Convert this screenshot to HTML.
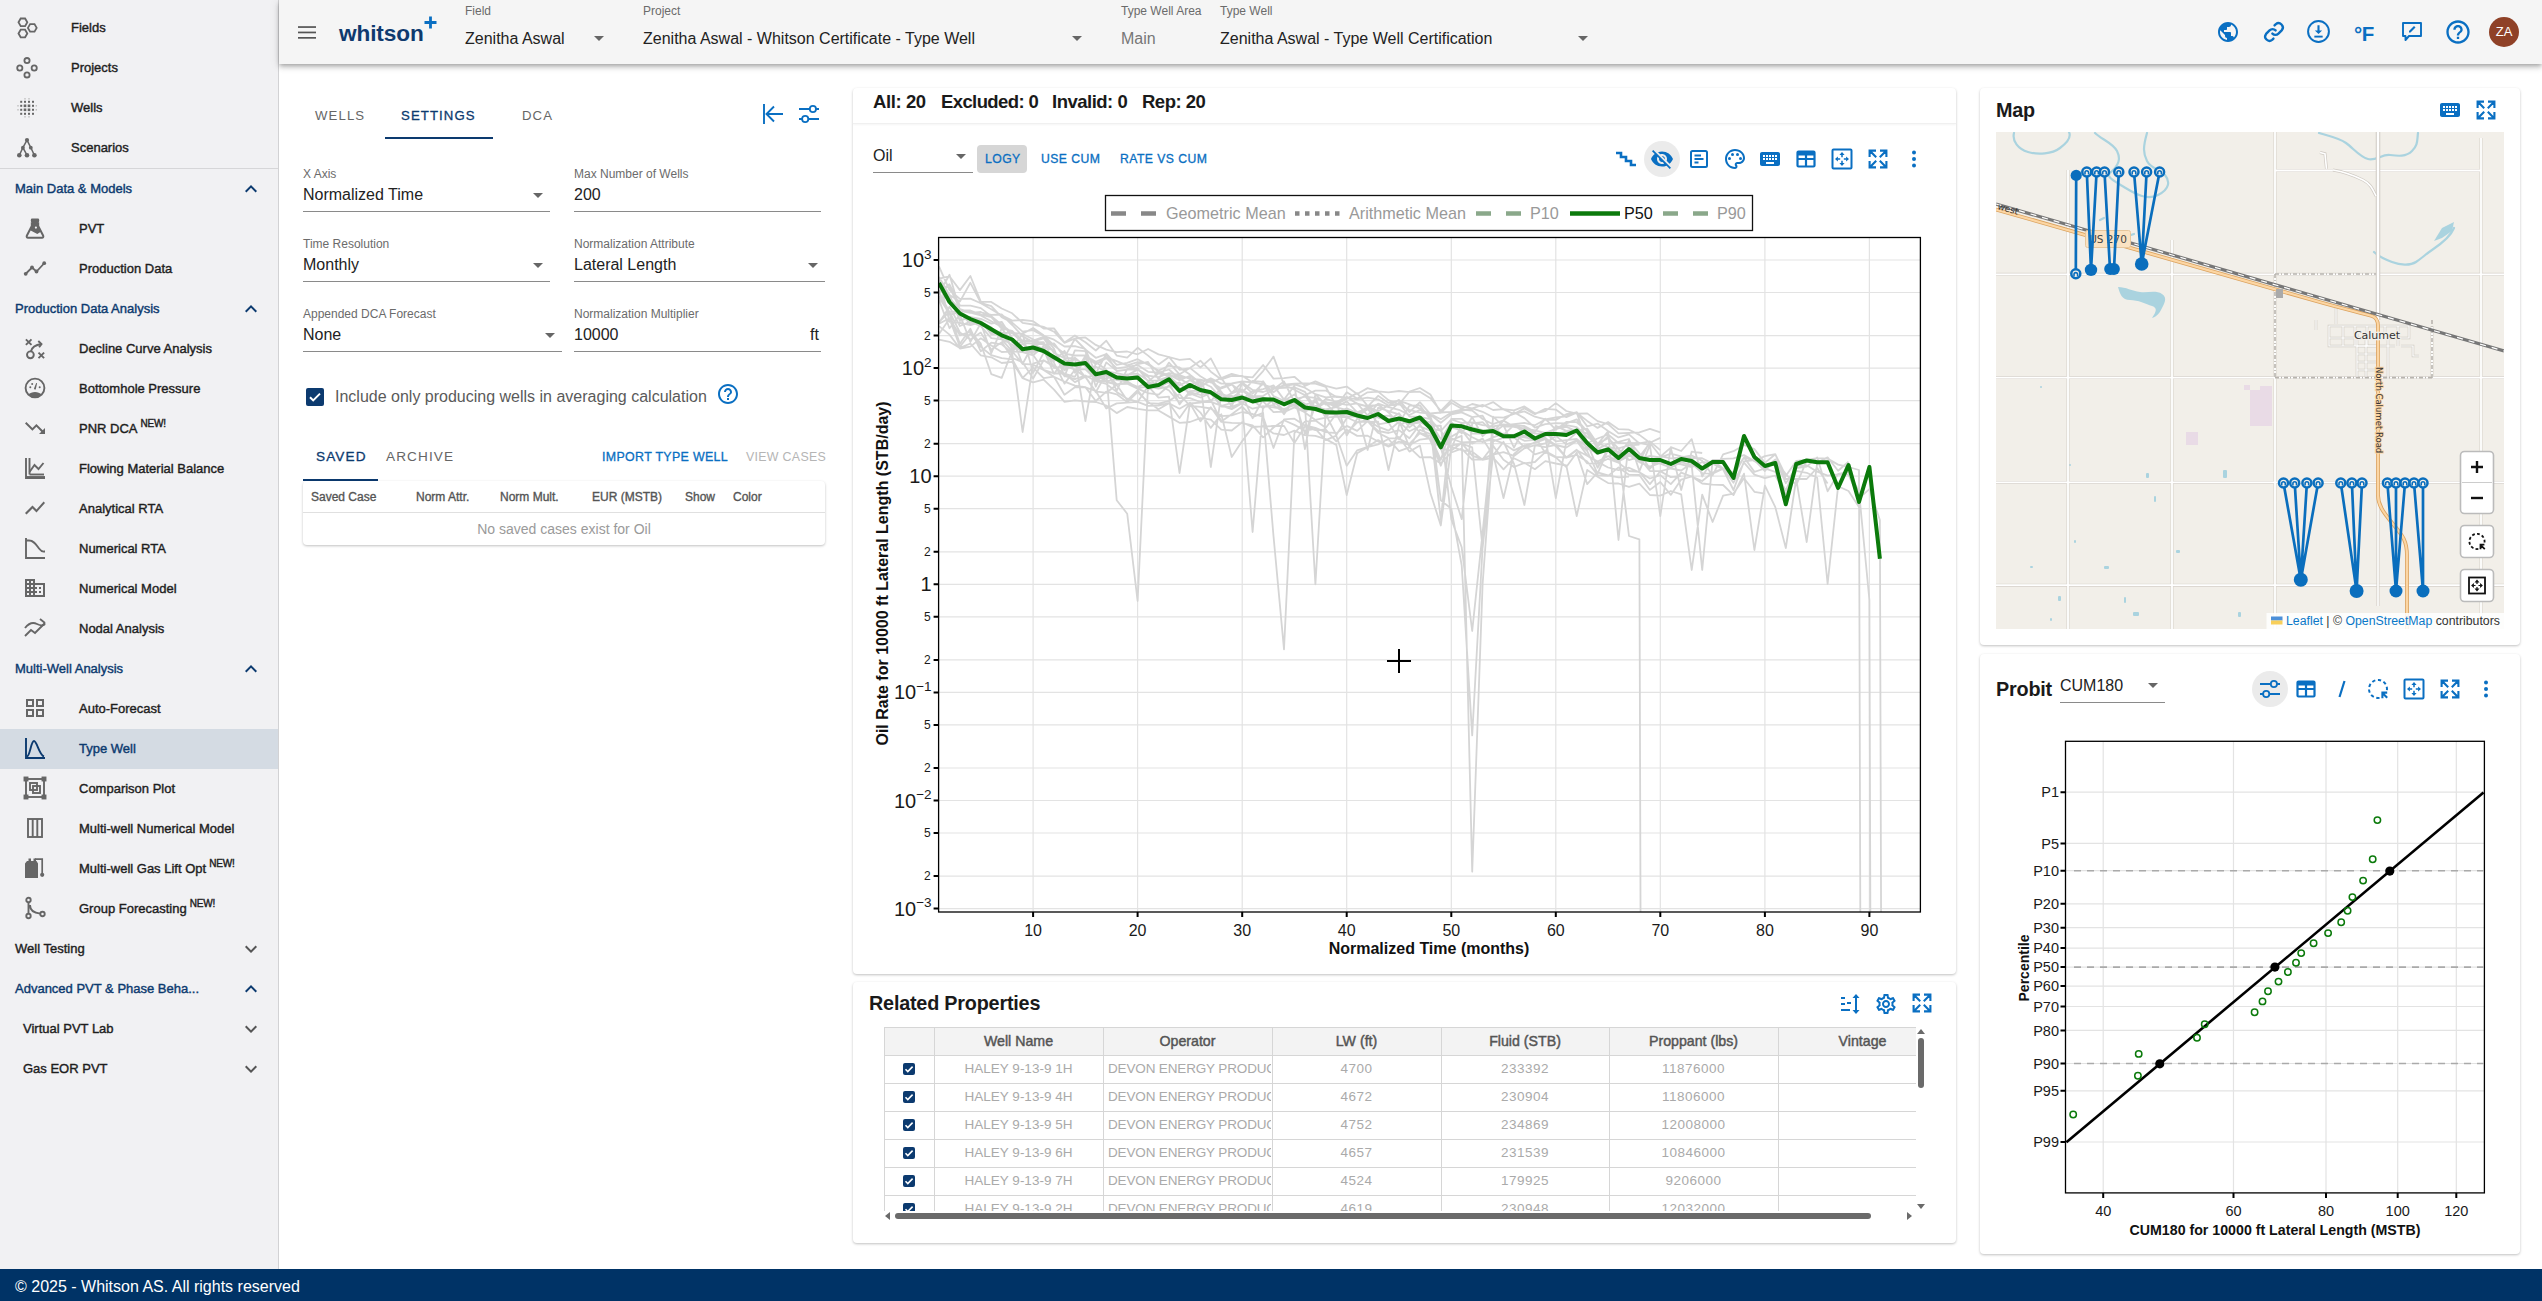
<!DOCTYPE html>
<html><head><meta charset="utf-8"><title>Type Well - whitson+</title>
<style>
*{box-sizing:border-box;margin:0;padding:0}
html,body{width:2542px;height:1301px;overflow:hidden;background:#fff;font-family:"Liberation Sans",Arial,sans-serif;color:#222}
.a{position:absolute;white-space:nowrap}
#sb{position:absolute;left:0;top:0;width:279px;height:1269px;background:#f1f1f3;border-right:1px solid #d2d2d4}
.si{position:absolute;left:0;width:278px;height:40px;font-size:13px;color:#1e1e1e;-webkit-text-stroke:0.4px #1e1e1e}
.si span.t{position:absolute;top:12.5px}
.si svg{position:absolute}
.sh{position:absolute;left:0;width:278px;height:40px;font-size:13px;color:#0c3a6f;-webkit-text-stroke:0.4px #0c3a6f}
.sh span.t{position:absolute;left:15px;top:12.5px}
.sh svg{position:absolute;left:239px;top:8.5px}
sup.n{font-size:10px;vertical-align:baseline;position:relative;top:-6px;margin-left:3px;letter-spacing:-0.2px}
#hdr{position:absolute;left:279px;top:0;width:2263px;height:64px;background:#f5f5f5;box-shadow:0 2px 4px -1px rgba(0,0,0,.25),0 4px 5px 0 rgba(0,0,0,.12),0 1px 10px 0 rgba(0,0,0,.1)}
.lbl{position:absolute;font-size:12px;color:#6b6b6b;white-space:nowrap}
.val{position:absolute;font-size:16px;color:#222;white-space:nowrap}
.card{position:absolute;background:#fff;border-radius:4px;box-shadow:0 1px 3px rgba(0,0,0,.18),0 1px 2px rgba(0,0,0,.08)}
#ftr{position:absolute;left:0;top:1269px;width:2542px;height:32px;background:#003366;color:#fff;font-size:16px}
</style></head><body>
<div id="sb">
<div class="si" style="top:7px"><span style="position:absolute;left:15px;top:8px"><svg width="24" height="24" viewBox="0 0 24 24" fill="none" stroke="#666" stroke-width="1.8"><path d="M12.30 7.30L10.10 11.11L5.70 11.11L3.50 7.30L5.70 3.49L10.10 3.49ZM21.70 12.90L19.50 16.71L15.10 16.71L12.90 12.90L15.10 9.09L19.50 9.09ZM12.30 18.50L10.10 22.31L5.70 22.31L3.50 18.50L5.70 14.69L10.10 14.69Z"/></svg></span><span class="t" style="left:71px">Fields</span></div>
<div class="si" style="top:47px"><span style="position:absolute;left:15px;top:8px"><svg width="24" height="24" viewBox="0 0 24 24" fill="none" stroke="#666" stroke-width="1.8"><circle cx="12" cy="5.6" r="2.6"/><circle cx="4.8" cy="13" r="2.6"/><circle cx="19.2" cy="13" r="2.6"/><circle cx="12" cy="19.9" r="2.6"/></svg></span><span class="t" style="left:71px">Projects</span></div>
<div class="si" style="top:87px"><span style="position:absolute;left:15px;top:8px"><svg width="24" height="24" viewBox="0 0 24 24"><rect x="2.3" y="10.1" width="1.4" height="1.4" fill="#bbb"/><rect x="2.3" y="14.1" width="1.4" height="1.4" fill="#bbb"/><rect x="5.2" y="5.8" width="2.0" height="2.0" fill="#666"/><rect x="5.2" y="9.8" width="2.0" height="2.0" fill="#666"/><rect x="5.2" y="13.8" width="2.0" height="2.0" fill="#666"/><rect x="5.2" y="17.8" width="2.0" height="2.0" fill="#666"/><rect x="9.3" y="3.1" width="1.4" height="1.4" fill="#bbb"/><rect x="9.0" y="5.8" width="2.0" height="2.0" fill="#666"/><rect x="8.7" y="9.5" width="2.6" height="2.6" fill="#666"/><rect x="8.7" y="13.5" width="2.6" height="2.6" fill="#666"/><rect x="9.0" y="17.8" width="2.0" height="2.0" fill="#666"/><rect x="9.3" y="21.1" width="1.4" height="1.4" fill="#bbb"/><rect x="13.3" y="3.1" width="1.4" height="1.4" fill="#bbb"/><rect x="13.0" y="5.8" width="2.0" height="2.0" fill="#666"/><rect x="12.7" y="9.5" width="2.6" height="2.6" fill="#666"/><rect x="12.7" y="13.5" width="2.6" height="2.6" fill="#666"/><rect x="13.0" y="17.8" width="2.0" height="2.0" fill="#666"/><rect x="13.3" y="21.1" width="1.4" height="1.4" fill="#bbb"/><rect x="17.0" y="5.8" width="2.0" height="2.0" fill="#666"/><rect x="17.0" y="9.8" width="2.0" height="2.0" fill="#666"/><rect x="17.0" y="13.8" width="2.0" height="2.0" fill="#666"/><rect x="17.0" y="17.8" width="2.0" height="2.0" fill="#666"/><rect x="20.6" y="10.1" width="1.4" height="1.4" fill="#bbb"/><rect x="20.6" y="14.1" width="1.4" height="1.4" fill="#bbb"/></svg></span><span class="t" style="left:71px">Wells</span></div>
<div class="si" style="top:127px"><span style="position:absolute;left:15px;top:8px"><svg width="24" height="24" viewBox="0 0 24 24" fill="#666"><path d="M12 5.099999999999994L7.899999999999999 12.699999999999989L4.300000000000001 20.19999999999999M12 5.099999999999994L15.8 12.699999999999989L19.4 20.19999999999999M7.899999999999999 12.699999999999989L12 20.19999999999999" stroke="#666" stroke-width="1.5" fill="none"/><circle cx="12.0" cy="5.1" r="2.1"/><circle cx="7.9" cy="12.7" r="1.9"/><circle cx="15.8" cy="12.7" r="1.9"/><circle cx="4.3" cy="20.2" r="2.3"/><circle cx="12.0" cy="20.2" r="2.3"/><circle cx="19.4" cy="20.2" r="2.3"/></svg></span><span class="t" style="left:71px">Scenarios</span></div>
<div style="position:absolute;left:0;top:168px;width:278px;height:1px;background:#d6d6d8"></div>
<div class="sh" style="top:168px;"><span class="t" style="left:15px">Main Data &amp; Models</span><svg width="24" height="24" viewBox="0 0 24 24"><path fill="#0c3a6f" d="M7.41 15.41L12 10.83l4.59 4.58L18 14l-6-6-6 6z"/></svg></div>
<div class="si" style="top:208px;"><span style="position:absolute;left:23px;top:8px"><svg width="24" height="24" viewBox="0 0 24 24"><rect x="7.8" y="2.6" width="8.4" height="3.8" rx="1.3" fill="#666"/><path fill="#666" d="M8.8 6h6.4v4l3 5.4-3.9 2.6-7.6-4 1.9-3.9z"/><path fill="none" stroke="#666" stroke-width="2" stroke-linejoin="round" d="M8.8 6.2V10L3.8 19.8a1.4 1.4 0 0 0 1.2 2h14a1.4 1.4 0 0 0 1.2-2L15.2 10V6.2"/><circle cx="12.9" cy="11.6" r="1.1" fill="#f1f1f3"/></svg></span><span class="t" style="left:79px;">PVT</span></div>
<div class="si" style="top:248px;"><span style="position:absolute;left:23px;top:8px"><svg width="24" height="24" viewBox="0 0 24 24"><path fill="none" stroke="#666" stroke-width="1.8" d="M2.5 18l6.5-6.5 4.5 4 8-8.5"/><circle cx="2.7" cy="17.8" r="1.9" fill="#666"/><circle cx="9" cy="11.5" r="1.9" fill="#666"/><circle cx="13.5" cy="15.5" r="1.9" fill="#666"/><circle cx="21.2" cy="7.2" r="1.9" fill="#666"/></svg></span><span class="t" style="left:79px;">Production Data</span></div>
<div class="sh" style="top:288px;"><span class="t" style="left:15px">Production Data Analysis</span><svg width="24" height="24" viewBox="0 0 24 24"><path fill="#0c3a6f" d="M7.41 15.41L12 10.83l4.59 4.58L18 14l-6-6-6 6z"/></svg></div>
<div class="si" style="top:328px;"><span style="position:absolute;left:23px;top:8px"><svg width="24" height="24" viewBox="0 0 24 24" fill="none" stroke="#666" stroke-width="1.9"><path d="M2.9000000000000004 3.3l5.6 5.6M8.5 3.3l-5.6 5.6"/><path d="M15.5 16.599999999999998l5.6 5.6M21.1 16.599999999999998l-5.6 5.6"/><circle cx="7.4" cy="18.8" r="3.4"/><path d="M8.0 15.200000000000001C8.9 10.8 12.5 9 18.5 8"/><path d="M15.3 5L18.5 8L16.1 11.2"/></svg></span><span class="t" style="left:79px;">Decline Curve Analysis</span></div>
<div class="si" style="top:368px;"><span style="position:absolute;left:23px;top:8px"><svg width="24" height="24" viewBox="0 0 24 24"><circle cx="12" cy="12" r="9.4" fill="none" stroke="#666" stroke-width="1.9"/><path fill="#666" d="M5.2 18.6a9.4 9.4 0 0 0 13.6 0c-1.8-1.7-4.2-2.6-6.8-2.6s-5 .9-6.8 2.6z"/><path fill="#666" d="M11 12.6l2.2-5.6.9.3-1.3 5.9a1 1 0 0 1-1.8-.6z"/><circle cx="7.3" cy="11.3" r="1" fill="#666"/><circle cx="9.2" cy="7.9" r="1" fill="#666"/><circle cx="16.7" cy="11.3" r="1" fill="#666"/></svg></span><span class="t" style="left:79px;">Bottomhole Pressure</span></div>
<div class="si" style="top:408px;"><span style="position:absolute;left:23px;top:8px"><svg width="24" height="24" viewBox="0 0 24 24"><path fill="#666" d="M16 18l2.29-2.29-4.88-4.88-4 4L2 7.41 3.41 6l6 6 4-4 6.3 6.29L22 12v6z"/></svg></span><span class="t" style="left:79px;">PNR DCA<sup class="n">NEW!</sup></span></div>
<div class="si" style="top:448px;"><span style="position:absolute;left:23px;top:8px"><svg width="24" height="24" viewBox="0 0 24 24" fill="none" stroke="#666" stroke-width="1.9"><path d="M3 2v20h19"/><path d="M3 21h19"/><path d="M6.5 18.5L21 18.5"/><path d="M6.5 16l5-7 4 4 5-6"/><path d="M6.5 18.5V2"/></svg></span><span class="t" style="left:79px;">Flowing Material Balance</span></div>
<div class="si" style="top:488px;"><span style="position:absolute;left:23px;top:8px"><svg width="24" height="24" viewBox="0 0 24 24"><path fill="#666" d="M3.5 18.49l6-6.01 4 4L22 6.92l-1.41-1.41-7.09 7.97-4-4L2 16.99z"/></svg></span><span class="t" style="left:79px;">Analytical RTA</span></div>
<div class="si" style="top:528px;"><span style="position:absolute;left:23px;top:8px"><svg width="24" height="24" viewBox="0 0 24 24" fill="none" stroke="#666" stroke-width="1.9"><path d="M3 2v20h19"/><path d="M3 4.5h3c5 0 7 4 10 8s4 3 6 3"/></svg></span><span class="t" style="left:79px;">Numerical RTA</span></div>
<div class="si" style="top:568px;"><span style="position:absolute;left:23px;top:8px"><svg width="24" height="24" viewBox="0 0 24 24"><path fill="#666" d="M12 7V3H2v18h20V7H12zM6 19H4v-2h2v2zm0-4H4v-2h2v2zm0-4H4V9h2v2zm0-4H4V5h2v2zm4 12H8v-2h2v2zm0-4H8v-2h2v2zm0-4H8V9h2v2zm0-4H8V5h2v2zm10 12h-8v-2h2v-2h-2v-2h2v-2h-2V9h8v10zm-2-8h-2v2h2v-2zm0 4h-2v2h2v-2z"/></svg></span><span class="t" style="left:79px;">Numerical Model</span></div>
<div class="si" style="top:608px;"><span style="position:absolute;left:23px;top:8px"><svg width="24" height="24" viewBox="0 0 24 24" fill="none" stroke="#666" stroke-width="1.9"><path d="M2 12c4-5 8-6 12-4s6 2 8 0"/><path d="M2 20l6-6 4 3 10-10"/><path d="M17 3l5 4"/></svg></span><span class="t" style="left:79px;">Nodal Analysis</span></div>
<div class="sh" style="top:648px;"><span class="t" style="left:15px">Multi-Well Analysis</span><svg width="24" height="24" viewBox="0 0 24 24"><path fill="#0c3a6f" d="M7.41 15.41L12 10.83l4.59 4.58L18 14l-6-6-6 6z"/></svg></div>
<div class="si" style="top:688px;"><span style="position:absolute;left:23px;top:8px"><svg width="24" height="24" viewBox="0 0 24 24"><path fill="#666" d="M3 3v8h8V3H3zm6 6H5V5h4v4zm-6 4v8h8v-8H3zm6 6H5v-4h4v4zm4-16v8h8V3h-8zm6 6h-4V5h4v4zm-6 4v8h8v-8h-8zm6 6h-4v-4h4v4z"/></svg></span><span class="t" style="left:79px;">Auto-Forecast</span></div>
<div class="si" style="top:729px;background:#d4dbe3;color:#0c3a6f;-webkit-text-stroke:0.4px #0c3a6f;"><span style="position:absolute;left:23px;top:7px"><svg width="24" height="24" viewBox="0 0 24 24" fill="none" stroke="#0c3a6f" stroke-width="1.9"><path d="M3 2v20h19"/><path d="M4 20.5C7 20 8 5 11 5s5 14 10 15.5"/></svg></span><span class="t" style="left:79px;top:12px">Type Well</span></div>
<div class="si" style="top:768px;"><span style="position:absolute;left:23px;top:8px"><svg width="24" height="24" viewBox="0 0 24 24" fill="none" stroke="#666" stroke-width="1.9"><rect x="3" y="3" width="18" height="18"/><rect x="7" y="7" width="7" height="7"/><rect x="10" y="10" width="7" height="7"/><rect x="1.5" y="1.5" width="3" height="3" fill="#666"/><rect x="19.5" y="1.5" width="3" height="3" fill="#666"/><rect x="1.5" y="19.5" width="3" height="3" fill="#666"/><rect x="19.5" y="19.5" width="3" height="3" fill="#666"/></svg></span><span class="t" style="left:79px;">Comparison Plot</span></div>
<div class="si" style="top:808px;"><span style="position:absolute;left:23px;top:8px"><svg width="24" height="24" viewBox="0 0 24 24" fill="none" stroke="#666" stroke-width="1.9"><rect x="5" y="3" width="14" height="18"/><path d="M9.7 3v18M14.3 3v18"/></svg></span><span class="t" style="left:79px;">Multi-well Numerical Model</span></div>
<div class="si" style="top:848px;"><span style="position:absolute;left:23px;top:8px"><svg width="24" height="24" viewBox="0 0 24 24"><path fill="#666" d="M2 22V7.5L4 5h1.5V2.5h2.5V5h2.5V2.5H13V5h0.5L15 7.5V22z"/><path fill="none" stroke="#666" stroke-width="1.7" d="M12 3.2h7.2v15"/><circle cx="19.2" cy="18.8" r="2.1" fill="#666"/></svg></span><span class="t" style="left:79px;">Multi-well Gas Lift Opt<sup class="n">NEW!</sup></span></div>
<div class="si" style="top:888px;"><span style="position:absolute;left:23px;top:8px"><svg width="24" height="24" viewBox="0 0 24 24" fill="none" stroke="#666" stroke-width="1.9"><circle cx="5.5" cy="4" r="2.2"/><circle cx="5.5" cy="20" r="2.2"/><circle cx="19.5" cy="18" r="2.2"/><path d="M5.5 6.2v11.6M7 9c0 5 4 8 10.3 8.6"/></svg></span><span class="t" style="left:79px;">Group Forecasting<sup class="n">NEW!</sup></span></div>
<div class="sh" style="top:928px;color:#1e1e1e;-webkit-text-stroke:0.4px #1e1e1e;"><span class="t" style="left:15px">Well Testing</span><svg width="24" height="24" viewBox="0 0 24 24"><path fill="#555" d="M7.41 8.59L12 13.17l4.59-4.58L18 10l-6 6-6-6 1.41-1.41z"/></svg></div>
<div class="sh" style="top:968px;"><span class="t" style="left:15px">Advanced PVT &amp; Phase Beha...</span><svg width="24" height="24" viewBox="0 0 24 24"><path fill="#0c3a6f" d="M7.41 15.41L12 10.83l4.59 4.58L18 14l-6-6-6 6z"/></svg></div>
<div class="sh" style="top:1008px;color:#1e1e1e;-webkit-text-stroke:0.4px #1e1e1e;"><span class="t" style="left:23px">Virtual PVT Lab</span><svg width="24" height="24" viewBox="0 0 24 24"><path fill="#555" d="M7.41 8.59L12 13.17l4.59-4.58L18 10l-6 6-6-6 1.41-1.41z"/></svg></div>
<div class="sh" style="top:1048px;color:#1e1e1e;-webkit-text-stroke:0.4px #1e1e1e;"><span class="t" style="left:23px">Gas EOR PVT</span><svg width="24" height="24" viewBox="0 0 24 24"><path fill="#555" d="M7.41 8.59L12 13.17l4.59-4.58L18 10l-6 6-6-6 1.41-1.41z"/></svg></div>
</div><div id="hdr"></div>
<svg class="a" style="left:298px;top:25px" width="18" height="15" viewBox="0 0 18 15"><rect x="0" y="1.2" width="18" height="1.7" fill="#555"/><rect x="0" y="6.6" width="18" height="1.7" fill="#555"/><rect x="0" y="12" width="18" height="1.7" fill="#555"/></svg>
<div class="a" style="left:339px;top:21px;font-size:22.6px;font-weight:700;color:#0f3a6e;letter-spacing:-0.1px">whitson</div>
<svg class="a" style="left:424px;top:16px" width="13" height="13" viewBox="0 0 13 13"><path d="M6.5 0.5v12M0.5 6.5h12" stroke="#0a6fc2" stroke-width="2.8"/></svg>
<div class="lbl" style="left:465px;top:4px">Field</div>
<div class="val" style="left:465px;top:30px">Zenitha Aswal</div>
<svg class="a" style="left:594px;top:36px" width="10" height="5" viewBox="0 0 10 5"><path d="M0 0h10L5 5z" fill="#666"/></svg>
<div class="lbl" style="left:643px;top:4px">Project</div>
<div class="val" style="left:643px;top:30px">Zenitha Aswal - Whitson Certificate - Type Well</div>
<svg class="a" style="left:1072px;top:36px" width="10" height="5" viewBox="0 0 10 5"><path d="M0 0h10L5 5z" fill="#666"/></svg>
<div class="lbl" style="left:1121px;top:4px">Type Well Area</div>
<div class="val" style="left:1121px;top:30px;color:#777">Main</div>
<div class="lbl" style="left:1220px;top:4px">Type Well</div>
<div class="val" style="left:1220px;top:30px">Zenitha Aswal - Type Well Certification</div>
<svg class="a" style="left:1578px;top:36px" width="10" height="5" viewBox="0 0 10 5"><path d="M0 0h10L5 5z" fill="#666"/></svg>
<!-- right icons -->
<svg class="a" style="left:2216px;top:20px" width="24" height="24" viewBox="0 0 24 24"><path fill="#0a6fc2" d="M12 2C6.48 2 2 6.48 2 12s4.48 10 10 10 10-4.48 10-10S17.52 2 12 2zm-1 17.93c-3.95-.49-7-3.85-7-7.93 0-.62.08-1.21.21-1.79L9 15v1c0 1.1.9 2 2 2v1.93zm6.9-2.54c-.26-.81-1-1.39-1.9-1.39h-1v-3c0-.55-.45-1-1-1H8v-2h2c.55 0 1-.45 1-1V7h2c1.1 0 2-.9 2-2v-.41c2.93 1.19 5 4.06 5 7.41 0 2.08-.8 3.97-2.1 5.39z"/></svg>
<svg class="a" style="left:2261px;top:19px" width="26" height="26" viewBox="0 0 24 24"><g fill="none" stroke="#0a6fc2" stroke-width="2.2" stroke-linecap="round"><path d="M10.5 13.5a4 4 0 0 0 5.6 0l3.2-3.2a4 4 0 0 0-5.6-5.6l-1.2 1.2"/><path d="M13.5 10.5a4 4 0 0 0-5.6 0l-3.2 3.2a4 4 0 0 0 5.6 5.6l1.2-1.2"/></g></svg>
<svg class="a" style="left:2306px;top:19px" width="25" height="25" viewBox="0 0 24 24"><circle cx="12" cy="12" r="10" fill="none" stroke="#0a6fc2" stroke-width="1.9"/><path fill="#0a6fc2" d="M11 6h2v5h2.5L12 14.5 8.5 11H11z"/><rect x="8" y="16" width="8" height="1.8" fill="#0a6fc2"/></svg>
<div class="a" style="left:2354px;top:21.5px;font-size:20.5px;font-weight:700;color:#0a6fc2;letter-spacing:-0.5px">°F</div>
<svg class="a" style="left:2400px;top:20px" width="24" height="24" viewBox="0 0 24 24"><path fill="none" stroke="#0a6fc2" stroke-width="1.9" stroke-linejoin="round" d="M3 3h18v13H9l-3.5 4v-4H3z"/><path fill="#0a6fc2" d="M9 12.5v-1.5l5-5 1.5 1.5-5 5z"/></svg>
<svg class="a" style="left:2444px;top:17.5px" width="28" height="28" viewBox="0 0 24 24"><path fill="#0a6fc2" d="M11 18h2v-2h-2v2zm1-16C6.48 2 2 6.48 2 12s4.48 10 10 10 10-4.48 10-10S17.52 2 12 2zm0 18c-4.41 0-8-3.59-8-8s3.59-8 8-8 8 3.59 8 8-3.59 8-8 8zm0-14c-2.21 0-4 1.79-4 4h2c0-1.1.9-2 2-2s2 .9 2 2c0 2-3 1.75-3 5h2c0-2.25 3-2.5 3-5 0-2.21-1.79-4-4-4z"/></svg>
<div class="a" style="left:2489px;top:17px;width:30px;height:30px;border-radius:50%;background:#8f4127;color:#fff;font-size:13px;text-align:center;line-height:30px">ZA</div>
<div class="a" style="left:315px;top:108px;font-size:13.2px;letter-spacing:1.1px;color:#666">WELLS</div>
<div class="a" style="left:401px;top:108px;font-size:13.2px;letter-spacing:1.1px;color:#0c3a6f;-webkit-text-stroke:0.3px #0c3a6f">SETTINGS</div>
<div class="a" style="left:522px;top:108px;font-size:13.2px;letter-spacing:1.1px;color:#666">DCA</div>
<div class="a" style="left:385px;top:137px;width:108px;height:2px;background:#0c3a6f"></div>
<svg class="a" style="left:761px;top:102px" width="24" height="24" viewBox="0 0 24 24"><path fill="none" stroke="#0a6fc2" stroke-width="1.9" d="M3 2v20M22 12H6M13 4.5L5.5 12l7.5 7.5"/></svg>
<svg class="a" style="left:797px;top:102px" width="24" height="24" viewBox="0 0 24 24"><g fill="none" stroke="#0a6fc2" stroke-width="1.8"><path d="M2 7h10.8M19 7H22M2 17h3M11.4 17H22"/><circle cx="15.9" cy="7" r="3.1"/><circle cx="8.2" cy="17" r="3.1"/></g></svg>
<div class="lbl" style="left:303px;top:167px">X Axis</div>
<div class="val" style="left:303px;top:186px">Normalized Time</div>
<div class="a" style="left:303px;top:211px;width:247px;height:1px;background:#8a8a8a"></div>
<svg class="a" style="left:533px;top:193px" width="10" height="5" viewBox="0 0 10 5"><path d="M0 0h10L5 5z" fill="#666"/></svg>
<div class="lbl" style="left:574px;top:167px">Max Number of Wells</div>
<div class="val" style="left:574px;top:186px">200</div>
<div class="a" style="left:574px;top:211px;width:247px;height:1px;background:#8a8a8a"></div>
<div class="lbl" style="left:303px;top:237px">Time Resolution</div>
<div class="val" style="left:303px;top:256px">Monthly</div>
<div class="a" style="left:303px;top:281px;width:247px;height:1px;background:#8a8a8a"></div>
<svg class="a" style="left:533px;top:263px" width="10" height="5" viewBox="0 0 10 5"><path d="M0 0h10L5 5z" fill="#666"/></svg>
<div class="lbl" style="left:574px;top:237px">Normalization Attribute</div>
<div class="val" style="left:574px;top:256px">Lateral Length</div>
<div class="a" style="left:574px;top:281px;width:251px;height:1px;background:#8a8a8a"></div>
<svg class="a" style="left:808px;top:263px" width="10" height="5" viewBox="0 0 10 5"><path d="M0 0h10L5 5z" fill="#666"/></svg>
<div class="lbl" style="left:303px;top:307px">Appended DCA Forecast</div>
<div class="val" style="left:303px;top:326px">None</div>
<div class="a" style="left:303px;top:351px;width:259px;height:1px;background:#8a8a8a"></div>
<svg class="a" style="left:545px;top:333px" width="10" height="5" viewBox="0 0 10 5"><path d="M0 0h10L5 5z" fill="#666"/></svg>
<div class="lbl" style="left:574px;top:307px">Normalization Multiplier</div>
<div class="val" style="left:574px;top:326px">10000</div>
<div class="a" style="left:574px;top:351px;width:247px;height:1px;background:#8a8a8a"></div>
<div class="val" style="left:810px;top:326px">ft</div>
<div class="a" style="left:306px;top:388px;width:18px;height:18px;border-radius:2px;background:#0c3a6f"><svg width="18" height="18" viewBox="0 0 18 18" style="position:absolute;left:0;top:0"><path d="M4 9.2l3.2 3.2L14 5.6" fill="none" stroke="#fff" stroke-width="2"/></svg></div>
<div class="a" style="left:335px;top:388px;font-size:16px;color:#5a5a5a">Include only producing wells in averaging calculation</div>
<svg class="a" style="left:716px;top:382px" width="24" height="24" viewBox="0 0 24 24"><path fill="#0a6fc2" d="M11 18h2v-2h-2v2zm1-16C6.48 2 2 6.48 2 12s4.48 10 10 10 10-4.48 10-10S17.52 2 12 2zm0 18c-4.41 0-8-3.59-8-8s3.59-8 8-8 8 3.59 8 8-3.59 8-8 8zm0-14c-2.21 0-4 1.79-4 4h2c0-1.1.9-2 2-2s2 .9 2 2c0 2-3 1.75-3 5h2c0-2.25 3-2.5 3-5 0-2.21-1.79-4-4-4z"/></svg>
<div class="a" style="left:316px;top:449px;font-size:13.6px;letter-spacing:1.1px;color:#0c3a6f;-webkit-text-stroke:0.3px #0c3a6f">SAVED</div>
<div class="a" style="left:386px;top:449px;font-size:13.6px;letter-spacing:1.1px;color:#666">ARCHIVE</div>
<div class="a" style="left:303px;top:479px;width:75px;height:2px;background:#0c3a6f"></div>
<div class="a" style="left:602px;top:450px;font-size:12.4px;letter-spacing:0.35px;color:#0a6fc2;-webkit-text-stroke:0.3px #0a6fc2">IMPORT TYPE WELL</div>
<div class="a" style="left:746px;top:450px;font-size:12.4px;letter-spacing:0.3px;color:#b5b5b5">VIEW CASES</div>
<div class="card" style="left:303px;top:481px;width:522px;height:64px;border-radius:4px">
<div class="a" style="left:8px;top:9px;font-size:12px;color:#555;-webkit-text-stroke:0.35px #555">Saved Case</div>
<div class="a" style="left:113px;top:9px;font-size:12px;color:#555;-webkit-text-stroke:0.35px #555">Norm Attr.</div>
<div class="a" style="left:197px;top:9px;font-size:12px;color:#555;-webkit-text-stroke:0.35px #555">Norm Mult.</div>
<div class="a" style="left:289px;top:9px;font-size:12px;color:#555;-webkit-text-stroke:0.35px #555">EUR (MSTB)</div>
<div class="a" style="left:382px;top:9px;font-size:12px;color:#555;-webkit-text-stroke:0.35px #555">Show</div>
<div class="a" style="left:430px;top:9px;font-size:12px;color:#555;-webkit-text-stroke:0.35px #555">Color</div>
<div class="a" style="left:0;top:31px;width:522px;height:1px;background:#e0e0e0"></div>
<div class="a" style="left:0;top:40px;width:522px;text-align:center;font-size:14px;color:#9a9a9a">No saved cases exist for Oil</div>
</div><div class="card" style="left:853px;top:88px;width:1103px;height:886px"></div>
<div class="a" style="left:853px;top:123px;width:1103px;height:1px;background:#f0f0f0;box-shadow:0 1px 2px rgba(0,0,0,.06)"></div>
<div class="a" style="left:873px;top:91px;font-size:18.5px;font-weight:700;color:#1a1a1a;letter-spacing:-0.4px">All: 20</div>
<div class="a" style="left:941px;top:91px;font-size:18.5px;font-weight:700;color:#1a1a1a;letter-spacing:-0.6px">Excluded: 0</div>
<div class="a" style="left:1052px;top:91px;font-size:18.5px;font-weight:700;color:#1a1a1a;letter-spacing:-0.5px">Invalid: 0</div>
<div class="a" style="left:1142px;top:91px;font-size:18.5px;font-weight:700;color:#1a1a1a;letter-spacing:-0.5px">Rep: 20</div>
<div class="val" style="left:873px;top:147px">Oil</div>
<div class="a" style="left:873px;top:172px;width:100px;height:1px;background:#8a8a8a"></div>
<svg class="a" style="left:956px;top:154px" width="10" height="5" viewBox="0 0 10 5"><path d="M0 0h10L5 5z" fill="#666"/></svg>
<div class="a" style="left:977px;top:145px;width:50px;height:28px;border-radius:4px;background:#d6d6d6"></div>
<div class="a" style="left:985px;top:152px;font-size:12.2px;letter-spacing:0.45px;color:#0a6fc2;-webkit-text-stroke:0.3px #0a6fc2">LOGY</div>
<div class="a" style="left:1041px;top:152px;font-size:12.2px;letter-spacing:0.45px;color:#0a6fc2;-webkit-text-stroke:0.3px #0a6fc2">USE CUM</div>
<div class="a" style="left:1120px;top:152px;font-size:12.2px;letter-spacing:0.45px;color:#0a6fc2;-webkit-text-stroke:0.3px #0a6fc2">RATE VS CUM</div>
<svg class="a" style="left:1614px;top:147px" width="24" height="24" viewBox="0 0 24 24"><path fill="none" stroke="#0a6fc2" stroke-width="2.6" d="M2 6h5v4h5v4h5v4h5"/></svg>
<div class="a" style="left:1644px;top:141px;width:36px;height:36px;border-radius:50%;background:#ebebeb"></div>
<svg class="a" style="left:1650px;top:147px" width="24" height="24" viewBox="0 0 24 24"><path fill="#0a6fc2" d="M12 7c2.76 0 5 2.24 5 5 0 .65-.13 1.26-.36 1.83l2.92 2.92c1.51-1.26 2.7-2.89 3.43-4.75-1.73-4.39-6-7.5-11-7.5-1.4 0-2.74.25-3.98.7l2.16 2.16C10.74 7.13 11.35 7 12 7zM2 4.27l2.28 2.28.46.46C3.08 8.3 1.78 10.02 1 12c1.73 4.39 6 7.5 11 7.5 1.55 0 3.03-.3 4.38-.84l.42.42L19.73 22 21 20.73 3.27 3 2 4.27zM7.53 9.8l1.55 1.55c-.05.21-.08.43-.08.65 0 1.66 1.34 3 3 3 .22 0 .44-.03.65-.08l1.55 1.55c-.67.33-1.41.53-2.2.53-2.76 0-5-2.24-5-5 0-.79.2-1.53.53-2.2zm4.31-.78l3.15 3.15.02-.16c0-1.66-1.34-3-3-3l-.17.01z"/></svg>
<svg class="a" style="left:1687px;top:147px" width="24" height="24" viewBox="0 0 24 24"><rect x="4" y="4" width="16" height="16" rx="1.5" fill="none" stroke="#0a6fc2" stroke-width="2"/><path d="M7.5 8.5h6.5M7.5 12h9M7.5 15.5h4" stroke="#0a6fc2" stroke-width="1.9"/></svg>
<svg class="a" style="left:1723px;top:147px" width="24" height="24" viewBox="0 0 24 24"><path fill="#0a6fc2" d="M12 22C6.49 22 2 17.51 2 12S6.49 2 12 2s10 4.04 10 9c0 3.31-2.69 6-6 6h-1.77c-.28 0-.5.22-.5.5 0 .12.05.23.13.33.41.47.64 1.06.64 1.67 0 1.38-1.12 2.5-2.5 2.5zm0-18c-4.41 0-8 3.59-8 8s3.59 8 8 8c.28 0 .5-.22.5-.5 0-.16-.08-.28-.14-.35-.41-.46-.63-1.05-.63-1.65 0-1.38 1.12-2.5 2.5-2.5H16c2.21 0 4-1.79 4-4 0-3.86-3.59-7-8-7z"/><circle cx="6.5" cy="11.5" r="1.5" fill="#0a6fc2"/><circle cx="9.5" cy="7.5" r="1.5" fill="#0a6fc2"/><circle cx="14.5" cy="7.5" r="1.5" fill="#0a6fc2"/><circle cx="17.5" cy="11.5" r="1.5" fill="#0a6fc2"/></svg>
<svg class="a" style="left:1758px;top:147px" width="24" height="24" viewBox="0 0 24 24"><path fill="#0a6fc2" d="M20 5H4c-1.1 0-1.99.9-1.99 2L2 17c0 1.1.9 2 2 2h16c1.1 0 2-.9 2-2V7c0-1.1-.9-2-2-2zm-9 3h2v2h-2V8zm0 3h2v2h-2v-2zM8 8h2v2H8V8zm0 3h2v2H8v-2zm-1 2H5v-2h2v2zm0-3H5V8h2v2zm9 7H8v-2h8v2zm0-4h-2v-2h2v2zm0-3h-2V8h2v2zm3 3h-2v-2h2v2zm0-3h-2V8h2v2z"/></svg>
<svg class="a" style="left:1794px;top:147px" width="24" height="24" viewBox="0 0 24 24"><rect x="3.5" y="4.5" width="17" height="15" rx="1" fill="none" stroke="#0a6fc2" stroke-width="2.2"/><rect x="3.5" y="4.5" width="17" height="4" fill="#0a6fc2"/><path d="M12 5v14M4 12h16" stroke="#0a6fc2" stroke-width="2.2"/></svg>
<svg class="a" style="left:1830px;top:147px" width="24" height="24" viewBox="0 0 24 24"><rect x="2.5" y="2.5" width="19" height="19" rx="1" fill="none" stroke="#0a6fc2" stroke-width="2"/><path fill="#0a6fc2" d="M12 5l2.6 2.9h-5.2zM12 19l2.6-2.9h-5.2zM5 12l2.9-2.6v5.2zM19 12l-2.9-2.6v5.2z"/><path d="M12 7.5v2.7M12 13.8v2.7M7.5 12h2.7M13.8 12h2.7" stroke="#0a6fc2" stroke-width="1.5"/></svg>
<svg class="a" style="left:1866px;top:147px" width="24" height="24" viewBox="0 0 24 24"><path fill="none" stroke="#0a6fc2" stroke-width="2.1" d="M3.6 10V3.6H10M3.6 3.6l6.6 6.6M14 3.6h6.4V10M20.4 3.6l-6.6 6.6M3.6 14v6.4H10M3.6 20.4l6.6-6.6M14 20.4h6.4V14M20.4 20.4l-6.6-6.6"/></svg>
<svg class="a" style="left:1902px;top:147px" width="24" height="24" viewBox="0 0 24 24"><circle cx="12" cy="5.5" r="2" fill="#0a6fc2"/><circle cx="12" cy="12" r="2" fill="#0a6fc2"/><circle cx="12" cy="18.5" r="2" fill="#0a6fc2"/></svg>
<svg class="a" style="left:853px;top:180px" width="1103" height="790" viewBox="853 180 1103 790">
<defs><clipPath id="pc"><rect x="938.6" y="237.5" width="981.8" height="674.5"/></clipPath></defs>
<path d="M1033.1 237.5V912.0M1137.6 237.5V912.0M1242.2 237.5V912.0M1346.7 237.5V912.0M1451.3 237.5V912.0M1555.8 237.5V912.0M1660.3 237.5V912.0M1764.9 237.5V912.0M1869.4 237.5V912.0M938.6 908.6H1920.4M938.6 876.1H1920.4M938.6 833.0H1920.4M938.6 800.5H1920.4M938.6 768.0H1920.4M938.6 724.9H1920.4M938.6 692.4H1920.4M938.6 659.9H1920.4M938.6 616.8H1920.4M938.6 584.3H1920.4M938.6 551.8H1920.4M938.6 508.7H1920.4M938.6 476.2H1920.4M938.6 443.7H1920.4M938.6 400.6H1920.4M938.6 368.1H1920.4M938.6 335.6H1920.4M938.6 292.5H1920.4M938.6 260.0H1920.4" stroke="#e3e3e3" stroke-width="1.2" fill="none"/>
<g clip-path="url(#pc)"><path d="M939.0 297.3 L949.5 313.7 L959.9 343.7 L970.4 328.8 L980.8 351.3 L991.3 342.6 L1001.7 344.3 L1012.2 353.3 L1022.6 432.0 L1033.1 363.6 L1043.6 360.3 L1054.0 367.0 L1064.5 373.5 L1074.9 376.9 L1085.4 357.5 L1095.8 380.4 L1106.3 374.4 L1116.7 384.1 L1127.2 383.8 L1137.6 388.6 L1148.1 393.1 L1158.5 394.7 L1169.0 385.5 L1179.5 398.2 L1189.9 398.2 L1200.4 402.0 L1210.8 401.9 L1221.3 405.7 L1231.7 409.1 L1242.2 403.2 L1252.6 408.7 L1263.1 406.2 L1273.5 407.3 L1284.0 409.0 L1294.4 405.2 L1304.9 412.5 L1315.4 419.9 L1325.8 417.6 L1336.3 416.6 L1346.7 417.2 L1357.2 422.2 L1367.6 420.2 L1378.1 426.7 L1388.5 430.7 L1399.0 421.7 L1409.4 431.3 L1419.9 426.3 L1430.4 430.6 L1440.8 465.2 L1451.3 440.1 L1461.7 435.9 L1472.2 871.6 L1482.6 584.3 L1493.1 441.3 L1503.5 437.6 L1514.0 437.1 L1524.4 447.2 L1534.9 442.3 L1545.3 438.2 L1555.8 445.0 L1566.3 447.5 L1576.7 441.0 L1587.2 455.3 L1597.6 461.5 L1608.1 456.1 L1618.5 461.4 L1629.0 455.9 L1639.4 458.2 L1649.9 471.0 L1660.3 471.2 L1670.8 468.5 L1681.2 470.5 L1691.7 463.3 L1702.2 473.1 L1712.6 473.8 L1723.1 468.8 L1733.5 475.8 L1744.0 457.4 L1754.4 471.8 L1764.9 468.5 L1775.3 471.9 L1785.8 490.6 L1796.2 465.7 L1806.7 465.3 L1817.2 471.7 L1827.6 475.6 L1838.1 474.3 L1848.5 474.6 L1859.0 498.2 L1869.4 489.1 L1879.9 520.0 L1890.3 4000.0M939.0 292.0 L949.5 312.1 L959.9 310.9 L970.4 312.8 L980.8 312.0 L991.3 317.1 L1001.7 328.6 L1012.2 330.8 L1022.6 341.0 L1033.1 341.3 L1043.6 338.3 L1054.0 352.9 L1064.5 358.2 L1074.9 357.8 L1085.4 421.0 L1095.8 362.0 L1106.3 369.8 L1116.7 390.6 L1127.2 368.8 L1137.6 368.0 L1148.1 381.4 L1158.5 373.3 L1169.0 376.2 L1179.5 385.4 L1189.9 380.3 L1200.4 385.7 L1210.8 380.9 L1221.3 393.6 L1231.7 397.9 L1242.2 390.2 L1252.6 398.7 L1263.1 381.3 L1273.5 396.1 L1284.0 400.7 L1294.4 394.5 L1304.9 406.0 L1315.4 407.2 L1325.8 409.4 L1336.3 407.1 L1346.7 401.4 L1357.2 412.4 L1367.6 408.0 L1378.1 404.2 L1388.5 412.6 L1399.0 402.6 L1409.4 416.5 L1419.9 417.0 L1430.4 419.2 L1440.8 500.2 L1451.3 508.7 L1461.7 565.3 L1472.2 735.4 L1482.6 547.3 L1493.1 416.6 L1503.5 426.3 L1514.0 426.8 L1524.4 429.1 L1534.9 440.4 L1545.3 435.9 L1555.8 427.5 L1566.3 425.2 L1576.7 427.1 L1587.2 436.9 L1597.6 443.4 L1608.1 447.0 L1618.5 448.9 L1629.0 460.1 L1639.4 456.8 L1649.9 443.0 L1660.3 456.0 L1670.8 458.4 L1681.2 457.5 L1691.7 455.5 L1702.2 460.7 L1712.6 475.4 L1723.1 454.3 L1733.5 451.2 L1744.0 444.9 L1754.4 449.1 L1764.9 462.9 L1775.3 454.2 L1785.8 476.0 L1796.2 460.9 L1806.7 459.9 L1817.2 458.1 L1827.6 458.6 L1838.1 464.6 L1848.5 467.0 L1859.0 470.0 L1869.4 4000.0M939.0 300.7 L949.5 294.5 L959.9 321.0 L970.4 316.9 L980.8 321.1 L991.3 334.4 L1001.7 332.9 L1012.2 348.1 L1022.6 333.9 L1033.1 372.9 L1043.6 352.8 L1054.0 356.1 L1064.5 369.8 L1074.9 358.7 L1085.4 366.1 L1095.8 378.3 L1106.3 372.4 L1116.7 500.2 L1127.2 513.7 L1137.6 601.0 L1148.1 383.9 L1158.5 387.2 L1169.0 382.2 L1179.5 404.4 L1189.9 391.2 L1200.4 390.5 L1210.8 392.5 L1221.3 405.8 L1231.7 403.0 L1242.2 398.7 L1252.6 396.3 L1263.1 397.7 L1273.5 400.6 L1284.0 410.2 L1294.4 403.7 L1304.9 404.6 L1315.4 401.8 L1325.8 413.8 L1336.3 414.7 L1346.7 413.6 L1357.2 414.0 L1367.6 408.2 L1378.1 424.4 L1388.5 422.6 L1399.0 439.2 L1409.4 423.5 L1419.9 421.6 L1430.4 428.4 L1440.8 430.5 L1451.3 449.0 L1461.7 422.8 L1472.2 433.7 L1482.6 433.5 L1493.1 430.3 L1503.5 436.5 L1514.0 435.4 L1524.4 440.8 L1534.9 439.9 L1545.3 433.0 L1555.8 441.3 L1566.3 440.2 L1576.7 439.0 L1587.2 447.4 L1597.6 453.9 L1608.1 450.3 L1618.5 461.0 L1629.0 453.4 L1639.4 458.9 L1649.9 460.9 L1660.3 463.6 L1670.8 467.6 L1681.2 462.1 L1691.7 465.3 L1702.2 570.0 L1712.6 460.4 L1723.1 468.4 L1733.5 472.6 L1744.0 457.5 L1754.4 461.0 L1764.9 468.2 L1775.3 459.4 L1785.8 483.2 L1796.2 468.1 L1806.7 466.7 L1817.2 457.4 L1827.6 491.3 L1838.1 474.0 L1848.5 472.2 L1859.0 491.5 L1869.4 600.0 L1879.9 4000.0M939.0 322.0 L949.5 311.7 L959.9 332.4 L970.4 339.4 L980.8 332.6 L991.3 349.8 L1001.7 342.1 L1012.2 358.0 L1022.6 362.2 L1033.1 378.5 L1043.6 360.3 L1054.0 365.5 L1064.5 375.8 L1074.9 379.1 L1085.4 375.5 L1095.8 380.9 L1106.3 384.0 L1116.7 391.9 L1127.2 398.7 L1137.6 401.9 L1148.1 386.2 L1158.5 397.6 L1169.0 396.7 L1179.5 473.0 L1189.9 403.5 L1200.4 402.6 L1210.8 400.0 L1221.3 421.4 L1231.7 414.2 L1242.2 406.6 L1252.6 417.1 L1263.1 412.8 L1273.5 536.0 L1284.0 649.4 L1294.4 433.2 L1304.9 421.6 L1315.4 420.6 L1325.8 427.8 L1336.3 414.0 L1346.7 433.1 L1357.2 422.4 L1367.6 421.4 L1378.1 430.9 L1388.5 433.0 L1399.0 430.1 L1409.4 438.2 L1419.9 424.6 L1430.4 440.6 L1440.8 465.7 L1451.3 438.4 L1461.7 442.5 L1472.2 441.8 L1482.6 441.4 L1493.1 439.7 L1503.5 443.4 L1514.0 450.4 L1524.4 445.4 L1534.9 442.9 L1545.3 439.1 L1555.8 446.2 L1566.3 457.7 L1576.7 450.3 L1587.2 455.7 L1597.6 461.9 L1608.1 467.5 L1618.5 470.2 L1629.0 467.7 L1639.4 472.4 L1649.9 478.5 L1660.3 475.1 L1670.8 484.1 L1681.2 472.7 L1691.7 476.6 L1702.2 481.0 L1712.6 472.5 L1723.1 468.6 L1733.5 482.7 L1744.0 462.6 L1754.4 474.7 L1764.9 478.1 L1775.3 475.5 L1785.8 494.5 L1796.2 470.8 L1806.7 472.8 L1817.2 477.8 L1827.6 584.0 L1838.1 486.3 L1848.5 491.0 L1859.0 507.1M939.0 295.9 L949.5 314.6 L959.9 312.3 L970.4 324.1 L980.8 322.8 L991.3 332.2 L1001.7 332.9 L1012.2 332.8 L1022.6 343.1 L1033.1 343.6 L1043.6 349.5 L1054.0 373.9 L1064.5 359.4 L1074.9 364.7 L1085.4 361.5 L1095.8 377.5 L1106.3 378.5 L1116.7 375.7 L1127.2 376.7 L1137.6 375.8 L1148.1 390.0 L1158.5 380.2 L1169.0 376.6 L1179.5 388.5 L1189.9 388.5 L1200.4 382.1 L1210.8 467.0 L1221.3 393.8 L1231.7 397.9 L1242.2 395.0 L1252.6 418.2 L1263.1 399.3 L1273.5 400.2 L1284.0 404.2 L1294.4 398.8 L1304.9 403.5 L1315.4 584.3 L1325.8 409.7 L1336.3 412.8 L1346.7 408.4 L1357.2 413.0 L1367.6 407.1 L1378.1 414.2 L1388.5 420.2 L1399.0 417.7 L1409.4 421.9 L1419.9 418.6 L1430.4 425.8 L1440.8 425.7 L1451.3 519.2 L1461.7 547.3 L1472.2 631.0 L1482.6 532.7 L1493.1 430.6 L1503.5 436.9 L1514.0 434.6 L1524.4 435.6 L1534.9 436.5 L1545.3 453.0 L1555.8 425.9 L1566.3 430.9 L1576.7 429.4 L1587.2 441.9 L1597.6 451.3 L1608.1 447.5 L1618.5 453.0 L1629.0 454.3 L1639.4 459.3 L1649.9 455.9 L1660.3 457.5 L1670.8 453.7 L1681.2 456.4 L1691.7 458.2 L1702.2 458.2 L1712.6 463.5 L1723.1 458.9 L1733.5 458.3 L1744.0 455.1 L1754.4 461.1 L1764.9 456.1 L1775.3 454.1 L1785.8 479.0 L1796.2 478.9 L1806.7 542.0 L1817.2 462.9 L1827.6 457.4 L1838.1 470.8 L1848.5 461.7M939.0 326.1 L949.5 334.6 L959.9 348.5 L970.4 346.6 L980.8 338.3 L991.3 345.6 L1001.7 352.0 L1012.2 351.3 L1022.6 363.9 L1033.1 364.7 L1043.6 369.9 L1054.0 376.8 L1064.5 381.7 L1074.9 385.7 L1085.4 387.1 L1095.8 401.0 L1106.3 391.7 L1116.7 394.3 L1127.2 402.1 L1137.6 392.2 L1148.1 402.0 L1158.5 409.2 L1169.0 403.2 L1179.5 408.7 L1189.9 402.7 L1200.4 412.6 L1210.8 427.9 L1221.3 414.2 L1231.7 457.0 L1242.2 441.1 L1252.6 426.7 L1263.1 426.7 L1273.5 426.0 L1284.0 425.9 L1294.4 443.0 L1304.9 426.6 L1315.4 430.1 L1325.8 429.6 L1336.3 441.4 L1346.7 429.8 L1357.2 435.9 L1367.6 435.7 L1378.1 441.5 L1388.5 446.6 L1399.0 441.6 L1409.4 445.0 L1419.9 439.6 L1430.4 438.3 L1440.8 448.7 L1451.3 450.5 L1461.7 443.1 L1472.2 455.7 L1482.6 459.3 L1493.1 453.8 L1503.5 498.0 L1514.0 453.9 L1524.4 445.1 L1534.9 454.4 L1545.3 451.1 L1555.8 456.8 L1566.3 457.6 L1576.7 454.9 L1587.2 461.5 L1597.6 475.1 L1608.1 475.9 L1618.5 467.4 L1629.0 474.8 L1639.4 475.0 L1649.9 489.9 L1660.3 482.0 L1670.8 494.9 L1681.2 479.6 L1691.7 476.5 L1702.2 483.5 L1712.6 484.7 L1723.1 485.0 L1733.5 495.1 L1744.0 473.6 L1754.4 550.0 L1764.9 485.6 L1775.3 507.1 L1785.8 548.0 L1796.2 478.8 L1806.7 479.0 L1817.2 467.9 L1827.6 483.5M939.0 277.5 L949.5 321.9 L959.9 322.8 L970.4 325.2 L980.8 322.2 L991.3 327.3 L1001.7 338.9 L1012.2 344.8 L1022.6 352.0 L1033.1 352.2 L1043.6 348.3 L1054.0 362.8 L1064.5 383.6 L1074.9 369.7 L1085.4 376.9 L1095.8 392.3 L1106.3 373.3 L1116.7 380.0 L1127.2 381.3 L1137.6 388.1 L1148.1 386.5 L1158.5 388.5 L1169.0 386.6 L1179.5 382.3 L1189.9 395.0 L1200.4 392.1 L1210.8 391.9 L1221.3 397.4 L1231.7 395.7 L1242.2 404.2 L1252.6 532.0 L1263.1 406.3 L1273.5 405.2 L1284.0 412.2 L1294.4 407.4 L1304.9 412.3 L1315.4 398.7 L1325.8 418.0 L1336.3 402.6 L1346.7 435.4 L1357.2 418.7 L1367.6 417.6 L1378.1 416.2 L1388.5 415.6 L1399.0 420.1 L1409.4 447.2 L1419.9 429.9 L1430.4 434.0 L1440.8 442.7 L1451.3 436.6 L1461.7 430.7 L1472.2 437.3 L1482.6 442.1 L1493.1 437.4 L1503.5 433.7 L1514.0 435.9 L1524.4 437.4 L1534.9 439.2 L1545.3 436.7 L1555.8 498.0 L1566.3 441.6 L1576.7 432.6 L1587.2 443.6 L1597.6 467.7 L1608.1 448.4 L1618.5 458.7 L1629.0 455.0 L1639.4 462.1 L1649.9 466.6 L1660.3 462.8 L1670.8 463.4 L1681.2 464.3 L1691.7 467.2 L1702.2 462.0 L1712.6 463.4 L1723.1 469.4 L1733.5 490.0 L1744.0 461.4 L1754.4 460.2 L1764.9 471.0 L1775.3 460.1 L1785.8 474.1 L1796.2 485.2 L1806.7 460.8M939.0 339.7 L949.5 341.8 L959.9 347.9 L970.4 343.5 L980.8 355.3 L991.3 357.3 L1001.7 363.0 L1012.2 361.8 L1022.6 378.2 L1033.1 382.4 L1043.6 379.7 L1054.0 389.7 L1064.5 401.8 L1074.9 400.3 L1085.4 401.4 L1095.8 402.0 L1106.3 405.5 L1116.7 413.1 L1127.2 407.0 L1137.6 408.9 L1148.1 410.3 L1158.5 410.4 L1169.0 416.6 L1179.5 422.8 L1189.9 422.0 L1200.4 418.2 L1210.8 419.6 L1221.3 429.6 L1231.7 430.5 L1242.2 422.2 L1252.6 427.3 L1263.1 426.2 L1273.5 433.4 L1284.0 435.0 L1294.4 430.6 L1304.9 435.2 L1315.4 435.9 L1325.8 439.1 L1336.3 444.9 L1346.7 495.0 L1357.2 453.2 L1367.6 447.1 L1378.1 444.4 L1388.5 439.0 L1399.0 451.2 L1409.4 447.3 L1419.9 457.4 L1430.4 457.1 L1440.8 463.4 L1451.3 452.5 L1461.7 448.7 L1472.2 459.6 L1482.6 459.3 L1493.1 445.9 L1503.5 459.7 L1514.0 467.0 L1524.4 462.8 L1534.9 469.2 L1545.3 461.1 L1555.8 463.5 L1566.3 465.5 L1576.7 516.0 L1587.2 469.9 L1597.6 476.7 L1608.1 483.1 L1618.5 483.5 L1629.0 486.8 L1639.4 483.7 L1649.9 495.0 L1660.3 495.6 L1670.8 491.0 L1681.2 494.4 L1691.7 570.0 L1702.2 494.6 L1712.6 522.0 L1723.1 495.6 L1733.5 493.6 L1744.0 478.2 L1754.4 491.8 L1764.9 493.6M939.0 293.2 L949.5 274.8 L959.9 310.2 L970.4 310.5 L980.8 314.6 L991.3 317.2 L1001.7 326.4 L1012.2 333.6 L1022.6 333.7 L1033.1 328.0 L1043.6 335.3 L1054.0 345.5 L1064.5 353.6 L1074.9 355.5 L1085.4 355.5 L1095.8 364.2 L1106.3 358.2 L1116.7 368.4 L1127.2 366.9 L1137.6 365.1 L1148.1 371.8 L1158.5 372.5 L1169.0 369.5 L1179.5 378.5 L1189.9 384.6 L1200.4 380.6 L1210.8 401.8 L1221.3 387.4 L1231.7 383.8 L1242.2 399.1 L1252.6 391.1 L1263.1 389.1 L1273.5 385.4 L1284.0 399.6 L1294.4 385.7 L1304.9 449.0 L1315.4 394.3 L1325.8 404.6 L1336.3 404.4 L1346.7 398.6 L1357.2 393.1 L1367.6 405.9 L1378.1 404.8 L1388.5 412.3 L1399.0 423.6 L1409.4 405.6 L1419.9 405.4 L1430.4 419.4 L1440.8 431.1 L1451.3 419.4 L1461.7 423.0 L1472.2 422.3 L1482.6 425.1 L1493.1 426.3 L1503.5 424.5 L1514.0 425.4 L1524.4 426.0 L1534.9 431.7 L1545.3 418.8 L1555.8 429.7 L1566.3 422.0 L1576.7 422.2 L1587.2 431.1 L1597.6 444.3 L1608.1 431.4 L1618.5 540.0 L1629.0 439.2 L1639.4 471.1 L1649.9 445.1 L1660.3 516.0 L1670.8 447.1 L1681.2 451.0 L1691.7 439.2 L1702.2 476.6 L1712.6 459.9 L1723.1 459.6M939.0 290.7 L949.5 296.2 L959.9 320.0 L970.4 317.2 L980.8 318.8 L991.3 323.6 L1001.7 321.8 L1012.2 337.9 L1022.6 364.0 L1033.1 344.0 L1043.6 343.9 L1054.0 350.5 L1064.5 366.9 L1074.9 357.8 L1085.4 366.4 L1095.8 366.7 L1106.3 371.5 L1116.7 373.1 L1127.2 375.4 L1137.6 369.6 L1148.1 377.0 L1158.5 388.0 L1169.0 374.6 L1179.5 380.2 L1189.9 375.9 L1200.4 381.7 L1210.8 386.7 L1221.3 398.3 L1231.7 393.3 L1242.2 389.4 L1252.6 396.1 L1263.1 396.0 L1273.5 389.2 L1284.0 381.5 L1294.4 402.0 L1304.9 395.7 L1315.4 409.5 L1325.8 402.0 L1336.3 407.4 L1346.7 409.8 L1357.2 412.7 L1367.6 450.0 L1378.1 407.7 L1388.5 411.1 L1399.0 414.3 L1409.4 424.1 L1419.9 422.5 L1430.4 426.4 L1440.8 520.0 L1451.3 418.8 L1461.7 418.8 L1472.2 427.3 L1482.6 430.1 L1493.1 433.2 L1503.5 425.4 L1514.0 447.7 L1524.4 427.7 L1534.9 433.6 L1545.3 433.1 L1555.8 434.7 L1566.3 432.1 L1576.7 429.6 L1587.2 433.6 L1597.6 446.7 L1608.1 436.2 L1618.5 455.0 L1629.0 441.0 L1639.4 453.3 L1649.9 468.6 L1660.3 456.7 L1670.8 447.6 L1681.2 490.0 L1691.7 451.6 L1702.2 453.0M939.0 323.8 L949.5 318.3 L959.9 335.4 L970.4 331.7 L980.8 343.7 L991.3 374.1 L1001.7 377.9 L1012.2 351.0 L1022.6 343.7 L1033.1 354.9 L1043.6 369.8 L1054.0 373.4 L1064.5 373.5 L1074.9 382.1 L1085.4 376.8 L1095.8 391.4 L1106.3 392.8 L1116.7 384.8 L1127.2 400.3 L1137.6 390.2 L1148.1 403.1 L1158.5 403.7 L1169.0 400.9 L1179.5 394.0 L1189.9 405.9 L1200.4 406.9 L1210.8 408.5 L1221.3 416.2 L1231.7 415.3 L1242.2 412.0 L1252.6 414.0 L1263.1 416.6 L1273.5 448.0 L1284.0 419.3 L1294.4 418.7 L1304.9 425.5 L1315.4 427.9 L1325.8 432.2 L1336.3 433.2 L1346.7 425.9 L1357.2 430.9 L1367.6 421.2 L1378.1 432.8 L1388.5 438.1 L1399.0 438.7 L1409.4 443.9 L1419.9 433.1 L1430.4 438.9 L1440.8 442.7 L1451.3 445.7 L1461.7 443.6 L1472.2 447.4 L1482.6 548.0 L1493.1 454.7 L1503.5 452.1 L1514.0 455.9 L1524.4 448.3 L1534.9 445.2 L1545.3 447.1 L1555.8 444.8 L1566.3 457.4 L1576.7 449.8 L1587.2 463.4 L1597.6 463.7 L1608.1 458.8 L1618.5 462.6 L1629.0 471.0 L1639.4 471.8 L1649.9 484.1 L1660.3 471.3 L1670.8 477.1 L1681.2 476.1M939.0 278.7 L949.5 276.3 L959.9 290.1 L970.4 276.0 L980.8 301.7 L991.3 301.9 L1001.7 308.5 L1012.2 313.3 L1022.6 322.9 L1033.1 324.5 L1043.6 326.9 L1054.0 331.7 L1064.5 342.8 L1074.9 338.5 L1085.4 337.4 L1095.8 344.9 L1106.3 349.6 L1116.7 352.1 L1127.2 351.5 L1137.6 354.3 L1148.1 349.0 L1158.5 354.4 L1169.0 357.0 L1179.5 359.9 L1189.9 358.9 L1200.4 367.5 L1210.8 358.4 L1221.3 378.2 L1231.7 373.8 L1242.2 376.5 L1252.6 377.3 L1263.1 365.0 L1273.5 378.6 L1284.0 378.2 L1294.4 376.8 L1304.9 385.9 L1315.4 381.4 L1325.8 385.8 L1336.3 388.7 L1346.7 386.6 L1357.2 394.0 L1367.6 388.1 L1378.1 391.4 L1388.5 392.3 L1399.0 391.0 L1409.4 392.1 L1419.9 391.7 L1430.4 398.2 L1440.8 410.9 L1451.3 400.1 L1461.7 406.5 L1472.2 408.3 L1482.6 404.8 L1493.1 410.0 L1503.5 409.1 L1514.0 410.4 L1524.4 406.4 L1534.9 413.3 L1545.3 411.1 L1555.8 403.1 L1566.3 411.0 L1576.7 413.7 L1587.2 413.4 L1597.6 421.1 L1608.1 424.2 L1618.5 433.4 L1629.0 432.8 L1639.4 432.3 L1649.9 428.8 L1660.3 432.3M939.0 266.3 L949.5 290.1 L959.9 298.9 L970.4 298.6 L980.8 303.3 L991.3 309.2 L1001.7 315.4 L1012.2 320.6 L1022.6 320.0 L1033.1 321.2 L1043.6 328.5 L1054.0 328.4 L1064.5 342.6 L1074.9 335.4 L1085.4 342.2 L1095.8 350.5 L1106.3 340.7 L1116.7 355.6 L1127.2 357.6 L1137.6 347.8 L1148.1 355.6 L1158.5 364.4 L1169.0 356.9 L1179.5 369.8 L1189.9 368.1 L1200.4 360.7 L1210.8 371.7 L1221.3 379.4 L1231.7 376.0 L1242.2 375.8 L1252.6 382.6 L1263.1 371.1 L1273.5 356.6 L1284.0 384.6 L1294.4 383.6 L1304.9 383.3 L1315.4 383.7 L1325.8 387.0 L1336.3 406.1 L1346.7 392.3 L1357.2 398.5 L1367.6 392.3 L1378.1 391.6 L1388.5 400.1 L1399.0 404.4 L1409.4 391.7 L1419.9 388.0 L1430.4 394.5 L1440.8 412.7 L1451.3 402.8 L1461.7 408.7 L1472.2 404.0 L1482.6 406.5 L1493.1 402.1 L1503.5 409.4 L1514.0 414.0 L1524.4 408.4 L1534.9 414.1 L1545.3 408.9 L1555.8 409.6 L1566.3 417.2 L1576.7 412.6 L1587.2 420.9 L1597.6 427.9 L1608.1 422.0 L1618.5 429.2 L1629.0 429.7 L1639.4 434.9 L1649.9 442.8 L1660.3 437.9M939.0 276.9 L949.5 294.9 L959.9 301.6 L970.4 282.8 L980.8 302.8 L991.3 306.2 L1001.7 317.1 L1012.2 322.6 L1022.6 331.6 L1033.1 330.2 L1043.6 335.9 L1054.0 339.7 L1064.5 346.5 L1074.9 346.2 L1085.4 349.0 L1095.8 373.5 L1106.3 353.6 L1116.7 364.9 L1127.2 362.8 L1137.6 359.2 L1148.1 364.6 L1158.5 370.6 L1169.0 365.8 L1179.5 367.4 L1189.9 374.6 L1200.4 383.0 L1210.8 378.2 L1221.3 383.6 L1231.7 383.5 L1242.2 381.5 L1252.6 382.3 L1263.1 384.5 L1273.5 387.9 L1284.0 385.8 L1294.4 384.3 L1304.9 387.7 L1315.4 394.2 L1325.8 397.4 L1336.3 396.5 L1346.7 397.6 L1357.2 399.3 L1367.6 397.6 L1378.1 399.3 L1388.5 405.6 L1399.0 399.9 L1409.4 412.1 L1419.9 402.1 L1430.4 414.1 L1440.8 419.3 L1451.3 412.6 L1461.7 410.9 L1472.2 408.4 L1482.6 411.8 L1493.1 417.2 L1503.5 417.7 L1514.0 413.8 L1524.4 411.4 L1534.9 416.7 L1545.3 419.3 L1555.8 417.5 L1566.3 416.3 L1576.7 412.1 L1587.2 426.4 L1597.6 423.6 L1608.1 431.1 L1618.5 437.4 L1629.0 434.3 L1639.4 443.5 L1649.9 441.4 L1660.3 450.1M939.0 291.8 L949.5 284.3 L959.9 305.5 L970.4 305.6 L980.8 308.1 L991.3 316.1 L1001.7 324.7 L1012.2 332.8 L1022.6 334.0 L1033.1 339.2 L1043.6 345.0 L1054.0 343.3 L1064.5 357.1 L1074.9 339.0 L1085.4 349.5 L1095.8 357.8 L1106.3 354.2 L1116.7 371.2 L1127.2 369.7 L1137.6 364.1 L1148.1 362.0 L1158.5 379.3 L1169.0 362.6 L1179.5 374.3 L1189.9 367.9 L1200.4 376.3 L1210.8 382.5 L1221.3 378.1 L1231.7 393.0 L1242.2 382.4 L1252.6 390.0 L1263.1 392.0 L1273.5 388.3 L1284.0 387.9 L1294.4 387.3 L1304.9 391.8 L1315.4 408.5 L1325.8 398.8 L1336.3 402.0 L1346.7 396.8 L1357.2 403.9 L1367.6 406.6 L1378.1 395.8 L1388.5 402.9 L1399.0 400.7 L1409.4 404.4 L1419.9 408.6 L1430.4 414.7 L1440.8 422.8 L1451.3 414.4 L1461.7 412.4 L1472.2 417.1 L1482.6 415.7 L1493.1 433.3 L1503.5 425.3 L1514.0 424.2 L1524.4 422.9 L1534.9 425.3 L1545.3 419.5 L1555.8 419.9 L1566.3 414.2 L1576.7 412.4 L1587.2 443.1 L1597.6 438.5 L1608.1 434.5 L1618.5 443.0 L1629.0 443.1 L1639.4 442.9 L1649.9 445.2M939.0 280.1 L949.5 298.2 L959.9 309.0 L970.4 312.3 L980.8 312.4 L991.3 314.8 L1001.7 314.5 L1012.2 325.0 L1022.6 336.1 L1033.1 342.3 L1043.6 342.1 L1054.0 361.1 L1064.5 350.8 L1074.9 372.7 L1085.4 355.9 L1095.8 361.8 L1106.3 357.2 L1116.7 361.1 L1127.2 365.4 L1137.6 362.2 L1148.1 363.2 L1158.5 371.7 L1169.0 375.4 L1179.5 377.0 L1189.9 377.9 L1200.4 387.7 L1210.8 378.7 L1221.3 391.8 L1231.7 406.2 L1242.2 383.7 L1252.6 393.6 L1263.1 383.6 L1273.5 392.3 L1284.0 384.6 L1294.4 389.7 L1304.9 395.1 L1315.4 390.6 L1325.8 390.6 L1336.3 397.0 L1346.7 397.3 L1357.2 403.7 L1367.6 406.4 L1378.1 411.3 L1388.5 405.5 L1399.0 404.3 L1409.4 409.8 L1419.9 412.6 L1430.4 413.5 L1440.8 412.5 L1451.3 411.9 L1461.7 409.6 L1472.2 410.5 L1482.6 419.0 L1493.1 424.2 L1503.5 420.3 L1514.0 412.2 L1524.4 418.1 L1534.9 427.6 L1545.3 424.2 L1555.8 423.2 L1566.3 423.4 L1576.7 419.4 L1587.2 431.5 L1597.6 448.9 L1608.1 443.9 L1618.5 441.9 L1629.0 439.0 L1639.4 462.3 L1649.9 440.9M939.0 299.9 L949.5 328.2 L959.9 314.8 L970.4 341.9 L980.8 323.2 L991.3 353.2 L1001.7 328.4 L1012.2 342.2 L1022.6 348.0 L1033.1 351.1 L1043.6 347.1 L1054.0 350.3 L1064.5 370.3 L1074.9 363.7 L1085.4 377.4 L1095.8 374.9 L1106.3 381.3 L1116.7 379.1 L1127.2 374.4 L1137.6 373.7 L1148.1 380.4 L1158.5 380.7 L1169.0 379.1 L1179.5 388.0 L1189.9 392.2 L1200.4 395.0 L1210.8 391.8 L1221.3 394.4 L1231.7 398.1 L1242.2 402.2 L1252.6 400.3 L1263.1 408.3 L1273.5 399.5 L1284.0 414.2 L1294.4 399.4 L1304.9 411.8 L1315.4 406.0 L1325.8 403.3 L1336.3 413.8 L1346.7 416.5 L1357.2 416.5 L1367.6 409.2 L1378.1 417.6 L1388.5 420.3 L1399.0 413.2 L1409.4 427.4 L1419.9 419.2 L1430.4 422.7 L1440.8 439.1 L1451.3 422.2 L1461.7 433.5 L1472.2 417.3 L1482.6 436.1 L1493.1 427.3 L1503.5 434.9 L1514.0 425.2 L1524.4 432.5 L1534.9 433.1 L1545.3 435.6 L1555.8 433.7 L1566.3 431.9 L1576.7 431.6 L1587.2 449.3 L1597.6 449.0 L1608.1 451.2 L1618.5 451.3 L1629.0 536.0 L1639.4 539.4 L1649.9 4000.0M939.0 287.2 L949.5 286.8 L959.9 309.1 L970.4 312.6 L980.8 315.5 L991.3 321.2 L1001.7 326.9 L1012.2 349.2 L1022.6 340.5 L1033.1 340.6 L1043.6 336.9 L1054.0 348.5 L1064.5 376.4 L1074.9 350.3 L1085.4 351.2 L1095.8 386.7 L1106.3 362.4 L1116.7 370.9 L1127.2 369.7 L1137.6 369.3 L1148.1 375.6 L1158.5 377.2 L1169.0 373.2 L1179.5 375.0 L1189.9 378.9 L1200.4 379.6 L1210.8 382.1 L1221.3 388.4 L1231.7 384.6 L1242.2 392.3 L1252.6 380.8 L1263.1 381.9 L1273.5 404.4 L1284.0 400.7 L1294.4 399.3 L1304.9 396.6 L1315.4 397.9 L1325.8 402.6 L1336.3 402.9 L1346.7 404.9 L1357.2 403.3 L1367.6 415.3 L1378.1 403.7 L1388.5 407.2 L1399.0 409.8 L1409.4 415.0 L1419.9 409.7 L1430.4 416.2 L1440.8 447.5 L1451.3 486.7 L1461.7 519.2 L1472.2 423.4 L1482.6 422.2 L1493.1 432.2 L1503.5 420.6 L1514.0 426.8 L1524.4 428.4 L1534.9 430.3 L1545.3 432.8 L1555.8 428.9 L1566.3 426.9 L1576.7 431.0 L1587.2 428.6 L1597.6 443.7 L1608.1 438.2 L1618.5 448.4 L1629.0 445.3 L1639.4 444.7M939.0 333.9 L949.5 318.8 L959.9 346.7 L970.4 333.5 L980.8 346.9 L991.3 355.2 L1001.7 358.1 L1012.2 359.3 L1022.6 377.8 L1033.1 367.5 L1043.6 378.1 L1054.0 376.7 L1064.5 394.8 L1074.9 387.3 L1085.4 387.4 L1095.8 391.0 L1106.3 408.5 L1116.7 403.4 L1127.2 402.7 L1137.6 401.9 L1148.1 405.9 L1158.5 405.5 L1169.0 403.1 L1179.5 418.0 L1189.9 403.3 L1200.4 421.4 L1210.8 407.3 L1221.3 421.9 L1231.7 422.8 L1242.2 423.1 L1252.6 425.4 L1263.1 437.4 L1273.5 427.5 L1284.0 420.3 L1294.4 424.9 L1304.9 430.6 L1315.4 428.8 L1325.8 440.2 L1336.3 435.7 L1346.7 465.7 L1357.2 450.3 L1367.6 446.8 L1378.1 440.1 L1388.5 445.9 L1399.0 437.0 L1409.4 451.6 L1419.9 445.4 L1430.4 492.9 L1440.8 525.5 L1451.3 446.9 L1461.7 450.1 L1472.2 451.6 L1482.6 459.8 L1493.1 457.5 L1503.5 469.3 L1514.0 458.2 L1524.4 463.3 L1534.9 462.0 L1545.3 452.1 L1555.8 457.4 L1566.3 467.0 L1576.7 452.8 L1587.2 484.1 L1597.6 472.4 L1608.1 475.4 L1618.5 477.3 L1629.0 476.7M939.0 322.7 L949.5 306.7 L959.9 326.0 L970.4 321.6 L980.8 326.2 L991.3 338.1 L1001.7 339.3 L1012.2 351.4 L1022.6 352.2 L1033.1 355.3 L1043.6 346.3 L1054.0 367.8 L1064.5 366.1 L1074.9 369.4 L1085.4 369.4 L1095.8 379.3 L1106.3 382.0 L1116.7 384.4 L1127.2 382.4 L1137.6 386.9 L1148.1 382.5 L1158.5 384.7 L1169.0 390.5 L1179.5 402.8 L1189.9 393.4 L1200.4 397.5 L1210.8 393.1 L1221.3 406.5 L1231.7 406.8 L1242.2 402.9 L1252.6 396.5 L1263.1 401.3 L1273.5 412.2 L1284.0 411.5 L1294.4 399.8 L1304.9 433.7 L1315.4 405.9 L1325.8 414.3 L1336.3 435.0 L1346.7 418.2 L1357.2 412.7 L1367.6 421.8 L1378.1 421.6 L1388.5 470.0 L1399.0 425.4 L1409.4 420.0 L1419.9 432.8 L1430.4 436.0 L1440.8 459.8 L1451.3 427.7 L1461.7 430.1 L1472.2 443.7 L1482.6 438.6 L1493.1 455.4 L1503.5 441.8 L1514.0 463.8 L1524.4 505.0 L1534.9 445.5 L1545.3 443.4 L1555.8 435.9 L1566.3 444.4 L1576.7 440.6 L1587.2 451.0 L1597.6 473.7 L1608.1 449.7 L1618.5 452.5" stroke="#d5d5d5" stroke-width="1.8" fill="none" stroke-linejoin="round"/>
<path d="M939.0 283.0 L949.5 302.0 L959.9 313.5 L970.4 319.0 L980.8 323.0 L991.3 329.3 L1001.7 335.3 L1012.2 339.5 L1022.6 349.3 L1033.1 347.5 L1043.6 351.0 L1054.0 357.3 L1064.5 363.5 L1074.9 364.5 L1085.4 363.0 L1095.8 374.3 L1106.3 372.0 L1116.7 377.5 L1127.2 378.5 L1137.6 377.5 L1148.1 387.0 L1158.5 385.0 L1169.0 379.3 L1179.5 391.0 L1189.9 385.0 L1200.4 390.0 L1210.8 392.3 L1221.3 399.3 L1231.7 400.0 L1242.2 397.5 L1252.6 401.5 L1263.1 399.3 L1273.5 399.5 L1284.0 404.3 L1294.4 400.0 L1304.9 407.5 L1315.4 409.0 L1325.8 412.3 L1336.3 412.5 L1346.7 412.0 L1357.2 415.5 L1367.6 418.0 L1378.1 414.0 L1388.5 421.0 L1399.0 418.5 L1409.4 421.3 L1419.9 417.5 L1430.4 428.0 L1440.8 447.3 L1451.3 425.5 L1461.7 426.3 L1472.2 429.5 L1482.6 432.0 L1493.1 431.0 L1503.5 436.3 L1514.0 436.3 L1524.4 431.5 L1534.9 438.5 L1545.3 434.0 L1555.8 434.0 L1566.3 435.0 L1576.7 430.5 L1587.2 443.0 L1597.6 452.5 L1608.1 449.3 L1618.5 458.0 L1629.0 449.0 L1639.4 458.0 L1649.9 460.0 L1660.3 460.0 L1670.8 464.0 L1681.2 459.0 L1691.7 461.0 L1702.2 468.5 L1712.6 462.0 L1723.1 462.0 L1733.5 478.0 L1744.0 436.0 L1754.4 457.0 L1764.9 466.0 L1775.3 463.0 L1785.8 504.3 L1796.2 464.0 L1806.7 460.5 L1817.2 462.3 L1827.6 462.3 L1838.1 488.0 L1848.5 465.0 L1859.0 502.0 L1869.4 467.0 L1879.9 558.8" stroke="#0b7a0b" stroke-width="4" fill="none" stroke-linejoin="round"/></g>
<rect x="938.6" y="237.5" width="981.8" height="674.5" fill="none" stroke="#000" stroke-width="1.3"/>
<path d="M933.6 908.6H938.6M933.6 876.1H938.6M933.6 833.0H938.6M933.6 800.5H938.6M933.6 768.0H938.6M933.6 724.9H938.6M933.6 692.4H938.6M933.6 659.9H938.6M933.6 616.8H938.6M933.6 584.3H938.6M933.6 551.8H938.6M933.6 508.7H938.6M933.6 476.2H938.6M933.6 443.7H938.6M933.6 400.6H938.6M933.6 368.1H938.6M933.6 335.6H938.6M933.6 292.5H938.6M933.6 260.0H938.6M1033.1 912.0V917.0M1137.6 912.0V917.0M1242.2 912.0V917.0M1346.7 912.0V917.0M1451.3 912.0V917.0M1555.8 912.0V917.0M1660.3 912.0V917.0M1764.9 912.0V917.0M1869.4 912.0V917.0" stroke="#000" stroke-width="2" fill="none"/>
<g font-family="Liberation Sans,Arial,sans-serif" fill="#1a1a1a"><text x="931.6" y="915.6" text-anchor="end" font-size="20">10<tspan font-size="13.5" dy="-8.5">−3</tspan></text><text x="930.6" y="880.3" text-anchor="end" font-size="12">2</text><text x="930.6" y="837.2" text-anchor="end" font-size="12">5</text><text x="931.6" y="807.5" text-anchor="end" font-size="20">10<tspan font-size="13.5" dy="-8.5">−2</tspan></text><text x="930.6" y="772.2" text-anchor="end" font-size="12">2</text><text x="930.6" y="729.1" text-anchor="end" font-size="12">5</text><text x="931.6" y="699.4" text-anchor="end" font-size="20">10<tspan font-size="13.5" dy="-8.5">−1</tspan></text><text x="930.6" y="664.1" text-anchor="end" font-size="12">2</text><text x="930.6" y="621.0" text-anchor="end" font-size="12">5</text><text x="931.6" y="591.3" text-anchor="end" font-size="20">1</text><text x="930.6" y="556.0" text-anchor="end" font-size="12">2</text><text x="930.6" y="512.9" text-anchor="end" font-size="12">5</text><text x="931.6" y="483.2" text-anchor="end" font-size="20">10</text><text x="930.6" y="447.9" text-anchor="end" font-size="12">2</text><text x="930.6" y="404.8" text-anchor="end" font-size="12">5</text><text x="931.6" y="375.1" text-anchor="end" font-size="20">10<tspan font-size="13.5" dy="-8.5">2</tspan></text><text x="930.6" y="339.8" text-anchor="end" font-size="12">2</text><text x="930.6" y="296.7" text-anchor="end" font-size="12">5</text><text x="931.6" y="267.0" text-anchor="end" font-size="20">10<tspan font-size="13.5" dy="-8.5">3</tspan></text><text x="1033.1" y="936.0" text-anchor="middle" font-size="16">10</text><text x="1137.6" y="936.0" text-anchor="middle" font-size="16">20</text><text x="1242.2" y="936.0" text-anchor="middle" font-size="16">30</text><text x="1346.7" y="936.0" text-anchor="middle" font-size="16">40</text><text x="1451.3" y="936.0" text-anchor="middle" font-size="16">50</text><text x="1555.8" y="936.0" text-anchor="middle" font-size="16">60</text><text x="1660.3" y="936.0" text-anchor="middle" font-size="16">70</text><text x="1764.9" y="936.0" text-anchor="middle" font-size="16">80</text><text x="1869.4" y="936.0" text-anchor="middle" font-size="16">90</text></g>
<text x="1429" y="954" text-anchor="middle" font-size="16" font-weight="700" font-family="Liberation Sans,Arial,sans-serif" fill="#111">Normalized Time (months)</text>
<text transform="translate(888 573.5) rotate(-90)" text-anchor="middle" font-size="16" font-weight="700" font-family="Liberation Sans,Arial,sans-serif" fill="#111">Oil Rate for 10000 ft Lateral Length (STB/day)</text>
<rect x="1105.5" y="195.5" width="647" height="35" fill="#fff" stroke="#111" stroke-width="1.3"/>
<g font-family="Liberation Sans,Arial,sans-serif"><path d="M1111 213.5h15M1141 213.5h15" stroke="#888" stroke-width="4.5"/><text x="1166" y="218.7" font-size="16.2" fill="#999">Geometric Mean</text><path d="M1295 213.5h45" stroke="#888" stroke-width="4.5" stroke-dasharray="4.5 5.5"/><text x="1349" y="218.7" font-size="16.2" fill="#999">Arithmetic Mean</text><path d="M1476 213.5h15M1506 213.5h15" stroke="#8aa88a" stroke-width="4.5"/><text x="1530" y="218.7" font-size="16.2" fill="#999">P10</text><path d="M1570 213.5h50" stroke="#0b7a0b" stroke-width="4.5"/><text x="1624" y="218.7" font-size="16.2" fill="#111">P50</text><path d="M1663 213.5h15M1693 213.5h15" stroke="#8aa88a" stroke-width="4.5"/><text x="1717" y="218.7" font-size="16.2" fill="#999">P90</text></g>
<path d="M1387 661h24M1399 649v24" stroke="#000" stroke-width="2"/>
</svg><div class="card" style="left:853px;top:982px;width:1103px;height:261px"></div>
<div class="a" style="left:869px;top:992px;font-size:19.8px;font-weight:700;color:#1a1a1a;letter-spacing:-0.2px">Related Properties</div>
<svg class="a" style="left:1838px;top:992px" width="24" height="24" viewBox="0 0 24 24"><path d="M3 6h4M3 12h4M3 18h9M14 18h0" stroke="#0a6fc2" stroke-width="2"/><path d="M9 11h4" stroke="#0a6fc2" stroke-width="2"/><path d="M18 4v16" stroke="#0a6fc2" stroke-width="2"/><path fill="#0a6fc2" d="M18 2l3.5 4h-7zM18 22l3.5-4h-7z"/></svg>
<svg class="a" style="left:1874px;top:992px" width="24" height="24" viewBox="0 0 24 24"><path fill="#0a6fc2" d="M19.43 12.98c.04-.32.07-.64.07-.98 0-.34-.03-.66-.07-.98l2.11-1.65c.19-.15.24-.42.12-.64l-2-3.46c-.09-.16-.26-.25-.44-.25-.06 0-.12.01-.17.03l-2.49 1c-.52-.4-1.08-.73-1.69-.98l-.38-2.65C14.46 2.18 14.25 2 14 2h-4c-.25 0-.46.18-.49.42l-.38 2.65c-.61.25-1.17.59-1.69.98l-2.49-1c-.06-.02-.12-.03-.18-.03-.17 0-.34.09-.43.25l-2 3.46c-.13.22-.07.49.12.64l2.11 1.65c-.04.32-.07.65-.07.98 0 .33.03.66.07.98l-2.11 1.65c-.19.15-.24.42-.12.64l2 3.46c.09.16.26.25.44.25.06 0 .12-.01.17-.03l2.49-1c.52.4 1.08.73 1.69.98l.38 2.65c.03.24.24.42.49.42h4c.25 0 .46-.18.49-.42l.38-2.65c.61-.25 1.17-.59 1.69-.98l2.49 1c.06.02.12.03.18.03.17 0 .34-.09.43-.25l2-3.46c.12-.22.07-.49-.12-.64l-2.11-1.65zm-1.98-1.71c.04.31.05.52.05.73 0 .21-.02.43-.05.73l-.14 1.13.89.7 1.08.84-.7 1.21-1.27-.51-1.04-.42-.9.68c-.43.32-.84.56-1.25.73l-1.06.43-.16 1.13-.2 1.35h-1.4l-.19-1.35-.16-1.13-1.06-.43c-.43-.18-.83-.41-1.23-.71l-.91-.7-1.06.43-1.27.51-.7-1.21 1.08-.84.89-.7-.14-1.13c-.03-.31-.05-.54-.05-.74s.02-.43.05-.73l.14-1.13-.89-.7-1.08-.84.7-1.21 1.27.51 1.04.42.9-.68c.43-.32.84-.56 1.250-.73l1.06-.43.16-1.13.2-1.35h1.39l.19 1.35.16 1.13 1.06.43c.43.18.83.41 1.23.71l.91.7 1.06-.43 1.27-.51.7 1.21-1.07.85-.89.7.14 1.13zM12 8c-2.21 0-4 1.790-4 4s1.79 4 4 4 4-1.79 4-4-1.79-4-4-4zm0 6c-1.1 0-2-.9-2-2s.9-2 2-2 2 .9 2 2-.9 2-2 2z"/></svg>
<svg class="a" style="left:1910px;top:991px" width="24" height="24" viewBox="0 0 24 24"><path fill="none" stroke="#0a6fc2" stroke-width="2.1" d="M3.6 10V3.6H10M3.6 3.6l6.6 6.6M14 3.6h6.4V10M20.4 3.6l-6.6 6.6M3.6 14v6.4H10M3.6 20.4l6.6-6.6M14 20.4h6.4V14M20.4 20.4l-6.6-6.6"/></svg>
<div class="a" style="left:884px;top:1027px;width:1032px;height:184px;overflow:hidden">
<div class="a" style="left:0;top:0;width:1032px;height:29px;background:#f3f3f3"></div>
<div class="a" style="left:0px;top:0;width:1px;height:184px;background:#d6d6d6"></div>
<div class="a" style="left:50px;top:0;width:1px;height:184px;background:#d6d6d6"></div>
<div class="a" style="left:219px;top:0;width:1px;height:184px;background:#d6d6d6"></div>
<div class="a" style="left:388px;top:0;width:1px;height:184px;background:#d6d6d6"></div>
<div class="a" style="left:557px;top:0;width:1px;height:184px;background:#d6d6d6"></div>
<div class="a" style="left:725px;top:0;width:1px;height:184px;background:#d6d6d6"></div>
<div class="a" style="left:894px;top:0;width:1px;height:184px;background:#d6d6d6"></div>
<div class="a" style="left:0;top:0;width:1032px;height:1px;background:#d6d6d6"></div>
<div class="a" style="left:0;top:28px;width:1032px;height:1px;background:#d6d6d6"></div>
<div class="a" style="left:0;top:56px;width:1032px;height:1px;background:#d6d6d6"></div>
<div class="a" style="left:0;top:84px;width:1032px;height:1px;background:#d6d6d6"></div>
<div class="a" style="left:0;top:112px;width:1032px;height:1px;background:#d6d6d6"></div>
<div class="a" style="left:0;top:140px;width:1032px;height:1px;background:#d6d6d6"></div>
<div class="a" style="left:0;top:168px;width:1032px;height:1px;background:#d6d6d6"></div>
<div class="a" style="left:0;top:196px;width:1032px;height:1px;background:#d6d6d6"></div>
<div class="a" style="left:50px;top:6px;width:169px;text-align:center;font-size:14.2px;color:#555;-webkit-text-stroke:0.45px #555">Well Name</div>
<div class="a" style="left:219px;top:6px;width:169px;text-align:center;font-size:14.2px;color:#555;-webkit-text-stroke:0.45px #555">Operator</div>
<div class="a" style="left:388px;top:6px;width:169px;text-align:center;font-size:14.2px;color:#555;-webkit-text-stroke:0.45px #555">LW (ft)</div>
<div class="a" style="left:557px;top:6px;width:168px;text-align:center;font-size:14.2px;color:#555;-webkit-text-stroke:0.45px #555">Fluid (STB)</div>
<div class="a" style="left:725px;top:6px;width:169px;text-align:center;font-size:14.2px;color:#555;-webkit-text-stroke:0.45px #555">Proppant (lbs)</div>
<div class="a" style="left:894px;top:6px;width:169px;text-align:center;font-size:14.2px;color:#555;-webkit-text-stroke:0.45px #555">Vintage</div>
<div class="a" style="left:19px;top:36px;width:12px;height:12px;border-radius:2px;background:#0c3a6f"><svg width="12" height="12" viewBox="0 0 12 12" style="position:absolute;left:0;top:0"><path d="M2.5 6.2l2.3 2.3L9.6 3.6" fill="none" stroke="#fff" stroke-width="1.6"/></svg></div>
<div class="a" style="left:50px;top:34px;width:169px;text-align:center;font-size:13.5px;color:#aaa;letter-spacing:0px">HALEY 9-13-9 1H</div>
<div class="a" style="left:220px;top:34px;width:167px;overflow:hidden;padding-left:4px;font-size:13.5px;letter-spacing:-0.15px;color:#aaa">DEVON ENERGY PRODUCT</div>
<div class="a" style="left:388px;top:34px;width:169px;text-align:center;font-size:13.5px;color:#aaa;letter-spacing:0.5px">4700</div>
<div class="a" style="left:557px;top:34px;width:168px;text-align:center;font-size:13.5px;color:#aaa;letter-spacing:0.5px">233392</div>
<div class="a" style="left:725px;top:34px;width:169px;text-align:center;font-size:13.5px;color:#aaa;letter-spacing:0.5px">11876000</div>
<div class="a" style="left:894px;top:34px;width:169px;text-align:center;font-size:13.5px;color:#aaa;letter-spacing:0.5px"></div>
<div class="a" style="left:19px;top:64px;width:12px;height:12px;border-radius:2px;background:#0c3a6f"><svg width="12" height="12" viewBox="0 0 12 12" style="position:absolute;left:0;top:0"><path d="M2.5 6.2l2.3 2.3L9.6 3.6" fill="none" stroke="#fff" stroke-width="1.6"/></svg></div>
<div class="a" style="left:50px;top:62px;width:169px;text-align:center;font-size:13.5px;color:#aaa;letter-spacing:0px">HALEY 9-13-9 4H</div>
<div class="a" style="left:220px;top:62px;width:167px;overflow:hidden;padding-left:4px;font-size:13.5px;letter-spacing:-0.15px;color:#aaa">DEVON ENERGY PRODUCT</div>
<div class="a" style="left:388px;top:62px;width:169px;text-align:center;font-size:13.5px;color:#aaa;letter-spacing:0.5px">4672</div>
<div class="a" style="left:557px;top:62px;width:168px;text-align:center;font-size:13.5px;color:#aaa;letter-spacing:0.5px">230904</div>
<div class="a" style="left:725px;top:62px;width:169px;text-align:center;font-size:13.5px;color:#aaa;letter-spacing:0.5px">11806000</div>
<div class="a" style="left:894px;top:62px;width:169px;text-align:center;font-size:13.5px;color:#aaa;letter-spacing:0.5px"></div>
<div class="a" style="left:19px;top:92px;width:12px;height:12px;border-radius:2px;background:#0c3a6f"><svg width="12" height="12" viewBox="0 0 12 12" style="position:absolute;left:0;top:0"><path d="M2.5 6.2l2.3 2.3L9.6 3.6" fill="none" stroke="#fff" stroke-width="1.6"/></svg></div>
<div class="a" style="left:50px;top:90px;width:169px;text-align:center;font-size:13.5px;color:#aaa;letter-spacing:0px">HALEY 9-13-9 5H</div>
<div class="a" style="left:220px;top:90px;width:167px;overflow:hidden;padding-left:4px;font-size:13.5px;letter-spacing:-0.15px;color:#aaa">DEVON ENERGY PRODUCT</div>
<div class="a" style="left:388px;top:90px;width:169px;text-align:center;font-size:13.5px;color:#aaa;letter-spacing:0.5px">4752</div>
<div class="a" style="left:557px;top:90px;width:168px;text-align:center;font-size:13.5px;color:#aaa;letter-spacing:0.5px">234869</div>
<div class="a" style="left:725px;top:90px;width:169px;text-align:center;font-size:13.5px;color:#aaa;letter-spacing:0.5px">12008000</div>
<div class="a" style="left:894px;top:90px;width:169px;text-align:center;font-size:13.5px;color:#aaa;letter-spacing:0.5px"></div>
<div class="a" style="left:19px;top:120px;width:12px;height:12px;border-radius:2px;background:#0c3a6f"><svg width="12" height="12" viewBox="0 0 12 12" style="position:absolute;left:0;top:0"><path d="M2.5 6.2l2.3 2.3L9.6 3.6" fill="none" stroke="#fff" stroke-width="1.6"/></svg></div>
<div class="a" style="left:50px;top:118px;width:169px;text-align:center;font-size:13.5px;color:#aaa;letter-spacing:0px">HALEY 9-13-9 6H</div>
<div class="a" style="left:220px;top:118px;width:167px;overflow:hidden;padding-left:4px;font-size:13.5px;letter-spacing:-0.15px;color:#aaa">DEVON ENERGY PRODUCT</div>
<div class="a" style="left:388px;top:118px;width:169px;text-align:center;font-size:13.5px;color:#aaa;letter-spacing:0.5px">4657</div>
<div class="a" style="left:557px;top:118px;width:168px;text-align:center;font-size:13.5px;color:#aaa;letter-spacing:0.5px">231539</div>
<div class="a" style="left:725px;top:118px;width:169px;text-align:center;font-size:13.5px;color:#aaa;letter-spacing:0.5px">10846000</div>
<div class="a" style="left:894px;top:118px;width:169px;text-align:center;font-size:13.5px;color:#aaa;letter-spacing:0.5px"></div>
<div class="a" style="left:19px;top:148px;width:12px;height:12px;border-radius:2px;background:#0c3a6f"><svg width="12" height="12" viewBox="0 0 12 12" style="position:absolute;left:0;top:0"><path d="M2.5 6.2l2.3 2.3L9.6 3.6" fill="none" stroke="#fff" stroke-width="1.6"/></svg></div>
<div class="a" style="left:50px;top:146px;width:169px;text-align:center;font-size:13.5px;color:#aaa;letter-spacing:0px">HALEY 9-13-9 7H</div>
<div class="a" style="left:220px;top:146px;width:167px;overflow:hidden;padding-left:4px;font-size:13.5px;letter-spacing:-0.15px;color:#aaa">DEVON ENERGY PRODUCT</div>
<div class="a" style="left:388px;top:146px;width:169px;text-align:center;font-size:13.5px;color:#aaa;letter-spacing:0.5px">4524</div>
<div class="a" style="left:557px;top:146px;width:168px;text-align:center;font-size:13.5px;color:#aaa;letter-spacing:0.5px">179925</div>
<div class="a" style="left:725px;top:146px;width:169px;text-align:center;font-size:13.5px;color:#aaa;letter-spacing:0.5px">9206000</div>
<div class="a" style="left:894px;top:146px;width:169px;text-align:center;font-size:13.5px;color:#aaa;letter-spacing:0.5px"></div>
<div class="a" style="left:19px;top:176px;width:12px;height:12px;border-radius:2px;background:#0c3a6f"><svg width="12" height="12" viewBox="0 0 12 12" style="position:absolute;left:0;top:0"><path d="M2.5 6.2l2.3 2.3L9.6 3.6" fill="none" stroke="#fff" stroke-width="1.6"/></svg></div>
<div class="a" style="left:50px;top:174px;width:169px;text-align:center;font-size:13.5px;color:#aaa;letter-spacing:0px">HALEY 9-13-9 2H</div>
<div class="a" style="left:220px;top:174px;width:167px;overflow:hidden;padding-left:4px;font-size:13.5px;letter-spacing:-0.15px;color:#aaa">DEVON ENERGY PRODUCT</div>
<div class="a" style="left:388px;top:174px;width:169px;text-align:center;font-size:13.5px;color:#aaa;letter-spacing:0.5px">4619</div>
<div class="a" style="left:557px;top:174px;width:168px;text-align:center;font-size:13.5px;color:#aaa;letter-spacing:0.5px">230948</div>
<div class="a" style="left:725px;top:174px;width:169px;text-align:center;font-size:13.5px;color:#aaa;letter-spacing:0.5px">12032000</div>
<div class="a" style="left:894px;top:174px;width:169px;text-align:center;font-size:13.5px;color:#aaa;letter-spacing:0.5px"></div>
</div>
<div class="a" style="left:895px;top:1213px;width:976px;height:6px;border-radius:3px;background:#6a6a6a"></div>
<svg class="a" style="left:885px;top:1212px" width="6" height="8" viewBox="0 0 6 8"><path d="M5 0v8L0 4z" fill="#6a6a6a"/></svg>
<svg class="a" style="left:1906px;top:1212px" width="6" height="8" viewBox="0 0 6 8"><path d="M1 0v8l5-4z" fill="#6a6a6a"/></svg>
<div class="a" style="left:1918px;top:1038px;width:6px;height:50px;border-radius:3px;background:#6a6a6a"></div>
<svg class="a" style="left:1917px;top:1029px" width="8" height="5" viewBox="0 0 8 5"><path d="M0 5h8L4 0z" fill="#6a6a6a"/></svg>
<svg class="a" style="left:1917px;top:1204px" width="8" height="5" viewBox="0 0 8 5"><path d="M0 0h8L4 5z" fill="#6a6a6a"/></svg><div class="card" style="left:1980px;top:88px;width:540px;height:557px"></div>
<div class="a" style="left:1996px;top:99px;font-size:19.8px;font-weight:700;color:#1a1a1a;letter-spacing:-0.2px">Map</div>
<svg class="a" style="left:2438px;top:98px" width="24" height="24" viewBox="0 0 24 24"><path fill="#0a6fc2" d="M20 5H4c-1.1 0-1.99.9-1.99 2L2 17c0 1.1.9 2 2 2h16c1.1 0 2-.9 2-2V7c0-1.1-.9-2-2-2zm-9 3h2v2h-2V8zm0 3h2v2h-2v-2zM8 8h2v2H8V8zm0 3h2v2H8v-2zm-1 2H5v-2h2v2zm0-3H5V8h2v2zm9 7H8v-2h8v2zm0-4h-2v-2h2v2zm0-3h-2V8h2v2zm3 3h-2v-2h2v2zm0-3h-2V8h2v2z"/></svg>
<svg class="a" style="left:2474px;top:98px" width="24" height="24" viewBox="0 0 24 24"><path fill="none" stroke="#0a6fc2" stroke-width="2.1" d="M3.6 10V3.6H10M3.6 3.6l6.6 6.6M14 3.6h6.4V10M20.4 3.6l-6.6 6.6M3.6 14v6.4H10M3.6 20.4l6.6-6.6M14 20.4h6.4V14M20.4 20.4l-6.6-6.6"/></svg>
<svg class="a" style="left:1996px;top:132px" width="508" height="497" viewBox="1996 132 508 497">
<rect x="1996" y="132" width="508" height="497" fill="#f2efe9"/>
<path d="M2244 385h6v5h10v-4h12v40h-22v-36h-6z" fill="#e9dbe6"/><rect x="2186" y="432" width="12" height="13" fill="#e9dbe6"/>
<g fill="none" stroke="#aad3df" stroke-width="2.2" stroke-linecap="round">
<path d="M2014 133c-2 8 4 16 14 19s24 2 32-4 11-12 9-16"/>
<path d="M2095 133c6 6 18 10 22 18s2 14-7 22c-4 4 4 8 14 14s22 14 34 8 12-14 7-20-14-6-18-14-4-14 0-28"/>
<path d="M2319 133c10 3 20 5 27 10s14 14 22 16 14-5 22-4 16 2 22-4 5-10 6-18"/>
<path d="M2374 252c4 4 10 7 18 10s18 4 24 0 10-8 16-12 18-12 22-22"/>
<path d="M2100 220l4 -2M2128 236l6 -2M2132 244l4 0"/>
</g>
<path d="M2118 287c8 0 14 4 22 5s16-2 22 2 2 10 0 14-4 8-10 10c4-6 6-10 0-12s-14-6-22-6-10-6-12-13z" fill="#aad3df"/>
<path d="M2442 228l12-6-2 9-10 7-8 3z" fill="#aad3df"/>
<rect x="2146" y="473" width="3" height="5" fill="#aad3df" rx="1"/>
<rect x="2068" y="464" width="3" height="2" fill="#aad3df" rx="1"/>
<rect x="2154" y="496" width="2" height="6" fill="#aad3df" rx="1"/>
<rect x="2176" y="550" width="4" height="3" fill="#aad3df" rx="1"/>
<rect x="2104" y="566" width="5" height="3" fill="#aad3df" rx="1"/>
<rect x="2124" y="597" width="2" height="6" fill="#aad3df" rx="1"/>
<rect x="2074" y="540" width="2" height="3" fill="#aad3df" rx="1"/>
<rect x="2223" y="470" width="4" height="8" fill="#aad3df" rx="1"/>
<rect x="2040" y="386" width="2" height="2" fill="#aad3df" rx="1"/>
<rect x="2030" y="566" width="3" height="2" fill="#aad3df" rx="1"/>
<rect x="2133" y="612" width="6" height="4" fill="#aad3df" rx="1"/>
<rect x="2058" y="596" width="3" height="5" fill="#aad3df" rx="1"/>
<rect x="2050" y="618" width="2" height="3" fill="#aad3df" rx="1"/>
<rect x="2238" y="612" width="3" height="5" fill="#aad3df" rx="1"/>
<path d="M2068 170V629M2172 240V629M2275 132V629M2481 138V629M2432 326V378M2275 170.5H2481M1996 274.3H2504M1996 377.6H2504M1996 482.4H2504M1996 585.2H2504" stroke="#d6d1ca" stroke-width="3" fill="none"/>
<path d="M2068 170V629M2172 240V629M2275 132V629M2481 138V629M2432 326V378M2275 170.5H2481M1996 274.3H2504M1996 377.6H2504M1996 482.4H2504M1996 585.2H2504" stroke="#fff" stroke-width="1.8" fill="none"/>
<path d="M2378 132V320" stroke="#c9c4bc" stroke-width="4.4"/><path d="M2378 132V320" stroke="#fff" stroke-width="2.6"/>
<path d="M2320 152.5l5 1.3 1.5 15M2333 170c12 2 22 6 30 10s10 10 13 16M2378 495V606" stroke="#cfcac3" stroke-width="3" fill="none"/><path d="M2320 152.5l5 1.3 1.5 15M2333 170c12 2 22 6 30 10s10 10 13 16M2378 495V606" stroke="#fff" stroke-width="1.6" fill="none"/>
<g stroke="#cfcac3" stroke-width="2.6" fill="none"><path d="M2329 326h80v12h-80zM2329 338v8h48M2355 326v20M2343 326v20M2367 326v20M2385 326v14M2398 326v20"/><path d="M2357 334v44M2366 334v44M2388 338v40M2401 346h12v10h6M2357 346h38M2357 354h22M2357 362h22M2357 370h22M2316 320v10M2336 306v18"/></g>
<g stroke="#fff" stroke-width="1.2" fill="none"><path d="M2329 326h80v12h-80zM2329 338v8h48M2355 326v20M2343 326v20M2367 326v20M2385 326v14M2398 326v20"/><path d="M2357 334v44M2366 334v44M2388 338v40M2401 346h12v10h6M2357 346h38M2357 354h22M2357 362h22M2357 370h22M2316 320v10M2336 306v18"/></g>
<path d="M2275 274V378M2275 377.6H2432M2432 320V378M2275 274H2376" stroke="#b8b4ae" stroke-width="1.6" stroke-dasharray="4 2 1 2" fill="none"/>
<path d="M1996 209.5L2316 301C2340 308 2362 313 2372 316Q2378 318 2378 326V495C2378 505 2383 512 2393 524S2407 541 2407 556V629" stroke="#dba25e" stroke-width="3.8" fill="none"/><path d="M1996 209.5L2316 301C2340 308 2362 313 2372 316Q2378 318 2378 326V495C2378 505 2383 512 2393 524S2407 541 2407 556V629" stroke="#fcd6a4" stroke-width="2.2" fill="none"/>
<path d="M1996 204L2504 351" stroke="#777" stroke-width="3.2" fill="none"/><path d="M1996 204L2504 351" stroke="#fff" stroke-width="1.2" stroke-dasharray="6 6" fill="none"/>
<rect x="2276" y="289" width="7" height="9" fill="#aaa"/>
<rect x="2085.5" y="230.5" width="45" height="17" rx="2" fill="#fae2c2" stroke="#e6c69c"/>
<text x="2108" y="243" text-anchor="middle" font-size="10.5" fill="#444" font-family="DejaVu Sans,Liberation Sans,sans-serif">US 270</text>
<text x="2377" y="338.5" text-anchor="middle" font-size="11" fill="#333" font-family="DejaVu Sans,Liberation Sans,sans-serif" stroke="#f2efe9" stroke-width="2.5" paint-order="stroke">Calumet</text>
<text transform="translate(2375.5 367) rotate(90)" font-size="8.5" fill="#333" font-family="DejaVu Sans,Liberation Sans,sans-serif" stroke="#fcd6a4" stroke-width="2" paint-order="stroke">North Calumet Road</text>
<text transform="translate(1997 209) rotate(16)" font-size="9" fill="#333" font-family="DejaVu Sans,Liberation Sans,sans-serif">west</text>
<path d="M2086.8 172L2091 270M2096.6 172L2091 270M2104.5 172L2110 269M2118.8 172L2114 269M2134 172L2141.7 264M2146.6 172L2141.7 264M2159.6 172L2141.7 264M2283.5 483L2300.8 580M2294.7 483L2300.8 580M2306.9 483L2300.8 580M2318.1 483L2300.8 580M2340.8 483L2356.6 591M2351.9 483L2356.6 591M2362 483L2356.6 591M2387.4 483L2396 591M2396 483L2396 591M2405 483L2396 591M2414 483L2423 591M2423 483L2423 591M2076.2 175L2075.8 273.8" stroke="#0a6ebd" stroke-width="2.7" fill="none"/><circle cx="2086.8" cy="172" r="4.5" fill="#f2efe9" stroke="#0a6ebd" stroke-width="2.5"/><path d="M2085.0 174.6v-2a1.8 1.8 0 0 1 3.6 0v2" stroke="#0a6ebd" stroke-width="1.6" fill="none"/><circle cx="2096.6" cy="172" r="4.5" fill="#f2efe9" stroke="#0a6ebd" stroke-width="2.5"/><path d="M2094.7999999999997 174.6v-2a1.8 1.8 0 0 1 3.6 0v2" stroke="#0a6ebd" stroke-width="1.6" fill="none"/><circle cx="2104.5" cy="172" r="4.5" fill="#f2efe9" stroke="#0a6ebd" stroke-width="2.5"/><path d="M2102.7 174.6v-2a1.8 1.8 0 0 1 3.6 0v2" stroke="#0a6ebd" stroke-width="1.6" fill="none"/><circle cx="2118.8" cy="172" r="4.5" fill="#f2efe9" stroke="#0a6ebd" stroke-width="2.5"/><path d="M2117.0 174.6v-2a1.8 1.8 0 0 1 3.6 0v2" stroke="#0a6ebd" stroke-width="1.6" fill="none"/><circle cx="2134" cy="172" r="4.5" fill="#f2efe9" stroke="#0a6ebd" stroke-width="2.5"/><path d="M2132.2 174.6v-2a1.8 1.8 0 0 1 3.6 0v2" stroke="#0a6ebd" stroke-width="1.6" fill="none"/><circle cx="2146.6" cy="172" r="4.5" fill="#f2efe9" stroke="#0a6ebd" stroke-width="2.5"/><path d="M2144.7999999999997 174.6v-2a1.8 1.8 0 0 1 3.6 0v2" stroke="#0a6ebd" stroke-width="1.6" fill="none"/><circle cx="2159.6" cy="172" r="4.5" fill="#f2efe9" stroke="#0a6ebd" stroke-width="2.5"/><path d="M2157.7999999999997 174.6v-2a1.8 1.8 0 0 1 3.6 0v2" stroke="#0a6ebd" stroke-width="1.6" fill="none"/><circle cx="2283.5" cy="483" r="4.5" fill="#f2efe9" stroke="#0a6ebd" stroke-width="2.5"/><path d="M2281.7 485.6v-2a1.8 1.8 0 0 1 3.6 0v2" stroke="#0a6ebd" stroke-width="1.6" fill="none"/><circle cx="2294.7" cy="483" r="4.5" fill="#f2efe9" stroke="#0a6ebd" stroke-width="2.5"/><path d="M2292.8999999999996 485.6v-2a1.8 1.8 0 0 1 3.6 0v2" stroke="#0a6ebd" stroke-width="1.6" fill="none"/><circle cx="2306.9" cy="483" r="4.5" fill="#f2efe9" stroke="#0a6ebd" stroke-width="2.5"/><path d="M2305.1 485.6v-2a1.8 1.8 0 0 1 3.6 0v2" stroke="#0a6ebd" stroke-width="1.6" fill="none"/><circle cx="2318.1" cy="483" r="4.5" fill="#f2efe9" stroke="#0a6ebd" stroke-width="2.5"/><path d="M2316.2999999999997 485.6v-2a1.8 1.8 0 0 1 3.6 0v2" stroke="#0a6ebd" stroke-width="1.6" fill="none"/><circle cx="2340.8" cy="483" r="4.5" fill="#f2efe9" stroke="#0a6ebd" stroke-width="2.5"/><path d="M2339.0 485.6v-2a1.8 1.8 0 0 1 3.6 0v2" stroke="#0a6ebd" stroke-width="1.6" fill="none"/><circle cx="2351.9" cy="483" r="4.5" fill="#f2efe9" stroke="#0a6ebd" stroke-width="2.5"/><path d="M2350.1 485.6v-2a1.8 1.8 0 0 1 3.6 0v2" stroke="#0a6ebd" stroke-width="1.6" fill="none"/><circle cx="2362" cy="483" r="4.5" fill="#f2efe9" stroke="#0a6ebd" stroke-width="2.5"/><path d="M2360.2 485.6v-2a1.8 1.8 0 0 1 3.6 0v2" stroke="#0a6ebd" stroke-width="1.6" fill="none"/><circle cx="2387.4" cy="483" r="4.5" fill="#f2efe9" stroke="#0a6ebd" stroke-width="2.5"/><path d="M2385.6 485.6v-2a1.8 1.8 0 0 1 3.6 0v2" stroke="#0a6ebd" stroke-width="1.6" fill="none"/><circle cx="2396" cy="483" r="4.5" fill="#f2efe9" stroke="#0a6ebd" stroke-width="2.5"/><path d="M2394.2 485.6v-2a1.8 1.8 0 0 1 3.6 0v2" stroke="#0a6ebd" stroke-width="1.6" fill="none"/><circle cx="2405" cy="483" r="4.5" fill="#f2efe9" stroke="#0a6ebd" stroke-width="2.5"/><path d="M2403.2 485.6v-2a1.8 1.8 0 0 1 3.6 0v2" stroke="#0a6ebd" stroke-width="1.6" fill="none"/><circle cx="2414" cy="483" r="4.5" fill="#f2efe9" stroke="#0a6ebd" stroke-width="2.5"/><path d="M2412.2 485.6v-2a1.8 1.8 0 0 1 3.6 0v2" stroke="#0a6ebd" stroke-width="1.6" fill="none"/><circle cx="2423" cy="483" r="4.5" fill="#f2efe9" stroke="#0a6ebd" stroke-width="2.5"/><path d="M2421.2 485.6v-2a1.8 1.8 0 0 1 3.6 0v2" stroke="#0a6ebd" stroke-width="1.6" fill="none"/><circle cx="2075.8" cy="273.8" r="4.5" fill="#f2efe9" stroke="#0a6ebd" stroke-width="2.5"/><path d="M2074.0 276.40000000000003v-2a1.8 1.8 0 0 1 3.6 0v2" stroke="#0a6ebd" stroke-width="1.6" fill="none"/><circle cx="2076.2" cy="175.4" r="5.6" fill="#0a6ebd"/><circle cx="2091" cy="269.9" r="6.2" fill="#0a6ebd"/><circle cx="2110.2" cy="268.9" r="6" fill="#0a6ebd"/><circle cx="2113.9" cy="268.9" r="6" fill="#0a6ebd"/><circle cx="2141.7" cy="264" r="6.8" fill="#0a6ebd"/><circle cx="2300.8" cy="579.8" r="7" fill="#0a6ebd"/><circle cx="2356.6" cy="591" r="7" fill="#0a6ebd"/><circle cx="2396" cy="591" r="6.5" fill="#0a6ebd"/><circle cx="2423" cy="591" r="6.5" fill="#0a6ebd"/>
<g><rect x="2460.5" y="451.5" width="33" height="62" rx="4" fill="#fff" stroke="#bbb" stroke-width="1.6"/><path d="M2462 482.5h30" stroke="#ccc"/><path d="M2471 467h12M2477 461v12" stroke="#111" stroke-width="2.4"/><path d="M2471 498h12" stroke="#111" stroke-width="2.4"/>
<rect x="2460.5" y="525.5" width="33" height="32" rx="4" fill="#fff" stroke="#bbb" stroke-width="1.6"/><path d="M2478.32 548.98A7.6 7.6 0 1 1 2484.34 543.47" fill="none" stroke="#111" stroke-width="1.8" stroke-dasharray="2.8 2.2"/><path d="M2479.6 544.6h4.8M2480.5 543.7v5.6M2480.4 544.8l4.4 4.4" stroke="#111" stroke-width="1.8"/>
<rect x="2460.5" y="569.5" width="33" height="32" rx="4" fill="#fff" stroke="#bbb" stroke-width="1.6"/><rect x="2469" y="577.5" width="16" height="16" fill="none" stroke="#111" stroke-width="1.8"/><path fill="#111" d="M2477 579.6l2.5 2.8h-5zM2477 591.4l2.5-2.8h-5zM2471.1 585.5l2.8-2.5v5zM2482.9 585.5l-2.8-2.5v5z"/><path d="M2477 582v2M2477 587v2M2473.5 585.5h2M2478.5 585.5h2" stroke="#111" stroke-width="1.2"/></g>
<rect x="2266.5" y="613" width="237.5" height="16" fill="#fff" fill-opacity="0.85"/>
<rect x="2271" y="616.5" width="11.5" height="4" fill="#4c8fd8"/><rect x="2271" y="620.5" width="11.5" height="4" fill="#f8cf5a"/>
<text x="2286" y="625" font-size="12.3" font-family="Liberation Sans,Arial,sans-serif" fill="#333"><tspan fill="#0a78c8">Leaflet</tspan> | © <tspan fill="#0a78c8">OpenStreetMap</tspan> contributors</text>
</svg>
<div class="card" style="left:1980px;top:654px;width:540px;height:600px"></div>
<div class="a" style="left:1996px;top:678px;font-size:19.8px;font-weight:700;color:#1a1a1a;letter-spacing:-0.2px">Probit</div>
<div class="val" style="left:2060px;top:677px">CUM180</div>
<div class="a" style="left:2060px;top:702px;width:105px;height:1px;background:#8a8a8a"></div>
<svg class="a" style="left:2148px;top:683px" width="10" height="5" viewBox="0 0 10 5"><path d="M0 0h10L5 5z" fill="#666"/></svg>
<div class="a" style="left:2252px;top:671px;width:36px;height:36px;border-radius:50%;background:#ebebeb"></div>
<svg class="a" style="left:2258px;top:677px" width="24" height="24" viewBox="0 0 24 24"><g fill="none" stroke="#0a6fc2" stroke-width="1.8"><path d="M2 7h10.8M19 7H22M2 17h3M11.4 17H22"/><circle cx="15.9" cy="7" r="3.1"/><circle cx="8.2" cy="17" r="3.1"/></g></svg>
<svg class="a" style="left:2294px;top:677px" width="24" height="24" viewBox="0 0 24 24"><rect x="3.5" y="4.5" width="17" height="15" rx="1" fill="none" stroke="#0a6fc2" stroke-width="2.2"/><rect x="3.5" y="4.5" width="17" height="4" fill="#0a6fc2"/><path d="M12 5v14M4 12h16" stroke="#0a6fc2" stroke-width="2.2"/></svg>
<svg class="a" style="left:2330px;top:677px" width="24" height="24" viewBox="0 0 24 24"><path d="M14.5 4L9.5 20" stroke="#0a6fc2" stroke-width="2.2"/></svg>
<svg class="a" style="left:2366px;top:677px" width="24" height="24" viewBox="0 0 24 24"><path d="M13.56 20.86A9 9 0 1 1 20.69 14.33" fill="none" stroke="#0a6fc2" stroke-width="2" stroke-dasharray="3.3 2.6"/><path d="M15.4 15.6h5.8M16.4 14.6v6.6M16.2 15.8l5 5" stroke="#0a6fc2" stroke-width="2.1"/></svg>
<svg class="a" style="left:2402px;top:677px" width="24" height="24" viewBox="0 0 24 24"><rect x="2.5" y="2.5" width="19" height="19" rx="1" fill="none" stroke="#0a6fc2" stroke-width="2"/><path fill="#0a6fc2" d="M12 5l2.6 2.9h-5.2zM12 19l2.6-2.9h-5.2zM5 12l2.9-2.6v5.2zM19 12l-2.9-2.6v5.2z"/><path d="M12 7.5v2.7M12 13.8v2.7M7.5 12h2.7M13.8 12h2.7" stroke="#0a6fc2" stroke-width="1.5"/></svg>
<svg class="a" style="left:2438px;top:677px" width="24" height="24" viewBox="0 0 24 24"><path fill="none" stroke="#0a6fc2" stroke-width="2.1" d="M3.6 10V3.6H10M3.6 3.6l6.6 6.6M14 3.6h6.4V10M20.4 3.6l-6.6 6.6M3.6 14v6.4H10M3.6 20.4l6.6-6.6M14 20.4h6.4V14M20.4 20.4l-6.6-6.6"/></svg>
<svg class="a" style="left:2474px;top:677px" width="24" height="24" viewBox="0 0 24 24"><circle cx="12" cy="5.5" r="2" fill="#0a6fc2"/><circle cx="12" cy="12" r="2" fill="#0a6fc2"/><circle cx="12" cy="18.5" r="2" fill="#0a6fc2"/></svg>
<svg class="a" style="left:1996px;top:720px" width="510" height="530" viewBox="1996 720 510 530" font-family="Liberation Sans,Arial,sans-serif">
<path d="M2103.2 741.3V1192.9M2233.5 741.3V1192.9M2326.0 741.3V1192.9M2397.7 741.3V1192.9M2456.3 741.3V1192.9M2065.5 792.2H2484.4M2065.5 843.4H2484.4M2065.5 870.7H2484.4M2065.5 903.8H2484.4M2065.5 927.7H2484.4M2065.5 948.1H2484.4M2065.5 967.1H2484.4M2065.5 986.1H2484.4M2065.5 1006.5H2484.4M2065.5 1030.4H2484.4M2065.5 1063.5H2484.4M2065.5 1090.8H2484.4M2065.5 1142.0H2484.4" stroke="#e3e3e3" stroke-width="1.2" fill="none"/>
<path d="M2074 870.7H2483" stroke="#aaa" stroke-width="1.6" stroke-dasharray="7 6"/><path d="M2074 967.1H2483" stroke="#aaa" stroke-width="1.6" stroke-dasharray="7 6"/><path d="M2074 1063.5H2483" stroke="#aaa" stroke-width="1.6" stroke-dasharray="7 6"/>
<path d="M2066.4 1142.2L2483.5 792.5" stroke="#000" stroke-width="2.6"/>
<circle cx="2377.4" cy="820.1" r="3.2" fill="none" stroke="#0b7a0b" stroke-width="1.5"/><circle cx="2372.7" cy="859.2" r="3.2" fill="none" stroke="#0b7a0b" stroke-width="1.5"/><circle cx="2363.1" cy="880.6" r="3.2" fill="none" stroke="#0b7a0b" stroke-width="1.5"/><circle cx="2352.4" cy="897.1" r="3.2" fill="none" stroke="#0b7a0b" stroke-width="1.5"/><circle cx="2347.6" cy="910.7" r="3.2" fill="none" stroke="#0b7a0b" stroke-width="1.5"/><circle cx="2341.2" cy="922.3" r="3.2" fill="none" stroke="#0b7a0b" stroke-width="1.5"/><circle cx="2328.1" cy="933.1" r="3.2" fill="none" stroke="#0b7a0b" stroke-width="1.5"/><circle cx="2313.6" cy="943.3" r="3.2" fill="none" stroke="#0b7a0b" stroke-width="1.5"/><circle cx="2301.2" cy="953.1" r="3.2" fill="none" stroke="#0b7a0b" stroke-width="1.5"/><circle cx="2296" cy="962.8" r="3.2" fill="none" stroke="#0b7a0b" stroke-width="1.5"/><circle cx="2287.9" cy="972" r="3.2" fill="none" stroke="#0b7a0b" stroke-width="1.5"/><circle cx="2278.5" cy="981.6" r="3.2" fill="none" stroke="#0b7a0b" stroke-width="1.5"/><circle cx="2268" cy="991.2" r="3.2" fill="none" stroke="#0b7a0b" stroke-width="1.5"/><circle cx="2262.5" cy="1001.4" r="3.2" fill="none" stroke="#0b7a0b" stroke-width="1.5"/><circle cx="2254.6" cy="1012.3" r="3.2" fill="none" stroke="#0b7a0b" stroke-width="1.5"/><circle cx="2204.7" cy="1024.2" r="3.2" fill="none" stroke="#0b7a0b" stroke-width="1.5"/><circle cx="2197" cy="1037.7" r="3.2" fill="none" stroke="#0b7a0b" stroke-width="1.5"/><circle cx="2138.7" cy="1053.9" r="3.2" fill="none" stroke="#0b7a0b" stroke-width="1.5"/><circle cx="2137.9" cy="1075.7" r="3.2" fill="none" stroke="#0b7a0b" stroke-width="1.5"/><circle cx="2073.2" cy="1114.5" r="3.2" fill="none" stroke="#0b7a0b" stroke-width="1.5"/>
<circle cx="2389.8" cy="871.1" r="4.6" fill="#000"/><circle cx="2274.9" cy="967.1" r="4.6" fill="#000"/><circle cx="2159.8" cy="1063.8" r="4.6" fill="#000"/>
<rect x="2065.5" y="741.3" width="418.9" height="451.6" fill="none" stroke="#000" stroke-width="1.3"/>
<path d="M2060.5 792.2H2065.5M2060.5 843.4H2065.5M2060.5 870.7H2065.5M2060.5 903.8H2065.5M2060.5 927.7H2065.5M2060.5 948.1H2065.5M2060.5 967.1H2065.5M2060.5 986.1H2065.5M2060.5 1006.5H2065.5M2060.5 1030.4H2065.5M2060.5 1063.5H2065.5M2060.5 1090.8H2065.5M2060.5 1142.0H2065.5M2103.2 1192.9V1197.9M2233.5 1192.9V1197.9M2326.0 1192.9V1197.9M2397.7 1192.9V1197.9M2456.3 1192.9V1197.9" stroke="#000" stroke-width="2"/>
<text x="2059" y="797.4" text-anchor="end" font-size="14.5" fill="#1a1a1a">P1</text><text x="2059" y="848.6" text-anchor="end" font-size="14.5" fill="#1a1a1a">P5</text><text x="2059" y="875.9" text-anchor="end" font-size="14.5" fill="#1a1a1a">P10</text><text x="2059" y="909.0" text-anchor="end" font-size="14.5" fill="#1a1a1a">P20</text><text x="2059" y="932.9" text-anchor="end" font-size="14.5" fill="#1a1a1a">P30</text><text x="2059" y="953.3" text-anchor="end" font-size="14.5" fill="#1a1a1a">P40</text><text x="2059" y="972.3" text-anchor="end" font-size="14.5" fill="#1a1a1a">P50</text><text x="2059" y="991.3" text-anchor="end" font-size="14.5" fill="#1a1a1a">P60</text><text x="2059" y="1011.7" text-anchor="end" font-size="14.5" fill="#1a1a1a">P70</text><text x="2059" y="1035.6" text-anchor="end" font-size="14.5" fill="#1a1a1a">P80</text><text x="2059" y="1068.7" text-anchor="end" font-size="14.5" fill="#1a1a1a">P90</text><text x="2059" y="1096.0" text-anchor="end" font-size="14.5" fill="#1a1a1a">P95</text><text x="2059" y="1147.2" text-anchor="end" font-size="14.5" fill="#1a1a1a">P99</text>
<text x="2103.2" y="1215.5" text-anchor="middle" font-size="14.5" fill="#1a1a1a">40</text><text x="2233.5" y="1215.5" text-anchor="middle" font-size="14.5" fill="#1a1a1a">60</text><text x="2326.0" y="1215.5" text-anchor="middle" font-size="14.5" fill="#1a1a1a">80</text><text x="2397.7" y="1215.5" text-anchor="middle" font-size="14.5" fill="#1a1a1a">100</text><text x="2456.3" y="1215.5" text-anchor="middle" font-size="14.5" fill="#1a1a1a">120</text>
<text x="2275" y="1234.5" text-anchor="middle" font-size="14.2" font-weight="700" fill="#111">CUM180 for 10000 ft Lateral Length (MSTB)</text>
<text transform="translate(2029 968) rotate(-90)" text-anchor="middle" font-size="14" font-weight="700" fill="#111">Percentile</text>
</svg><div id="ftr"><span class="a" style="left:15px;top:8.5px">© 2025 - Whitson AS. All rights reserved</span></div>
</body></html>
